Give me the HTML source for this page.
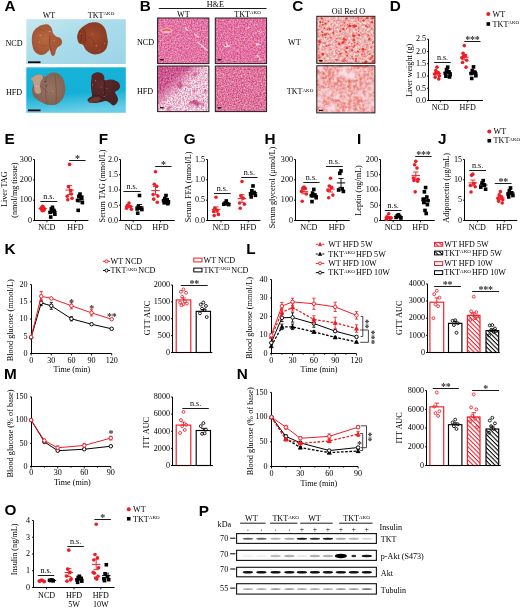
<!DOCTYPE html>
<html><head><meta charset="utf-8"><title>Figure</title>
<style>
html,body{margin:0;padding:0;background:#fff;width:520px;height:608px;overflow:hidden;}
svg{display:block;}
</style></head><body>
<svg width="520" height="608" viewBox="0 0 520 608" font-family="Liberation Serif, Times New Roman, serif" font-size="8.1" fill="#000">
<defs>
<pattern id="hr" patternUnits="userSpaceOnUse" width="3.1" height="3.1" patternTransform="rotate(45)">
<rect width="3.1" height="3.1" fill="#fff"/><rect width="3.1" height="1.05" fill="#ee1c25"/></pattern>
<pattern id="hk" patternUnits="userSpaceOnUse" width="3.1" height="3.1" patternTransform="rotate(45)">
<rect width="3.1" height="3.1" fill="#fff"/><rect width="3.1" height="1.05" fill="#000"/></pattern>
<linearGradient id="gNCD" x1="0" y1="0" x2="1" y2="1">
<stop offset="0" stop-color="#c6e8f1"/><stop offset="0.45" stop-color="#aadcea"/><stop offset="1" stop-color="#9ed4e7"/></linearGradient>
<linearGradient id="gHFD" x1="0" y1="0" x2="0.15" y2="1">
<stop offset="0" stop-color="#2cb9dc"/><stop offset="0.08" stop-color="#16b2d8"/><stop offset="0.62" stop-color="#14b0d7"/><stop offset="1" stop-color="#68cde6"/></linearGradient>
<radialGradient id="gLivWT" cx="0.45" cy="0.45" r="0.6">
<stop offset="0" stop-color="#b8683f"/><stop offset="1" stop-color="#9c5030"/></radialGradient>
<radialGradient id="gLivKO" cx="0.5" cy="0.45" r="0.6">
<stop offset="0" stop-color="#9e4a2c"/><stop offset="1" stop-color="#843822"/></radialGradient>
<radialGradient id="gLivWTH" cx="0.55" cy="0.5" r="0.6">
<stop offset="0" stop-color="#977262"/><stop offset="1" stop-color="#7f5f50"/></radialGradient>
<radialGradient id="gLivKOH" cx="0.4" cy="0.35" r="0.7">
<stop offset="0" stop-color="#5e2a2c"/><stop offset="1" stop-color="#472022"/></radialGradient>
<filter id="soft" x="-5%" y="-5%" width="110%" height="110%"><feGaussianBlur stdDeviation="0.35"/></filter>
<filter id="bl" x="-50%" y="-100%" width="200%" height="300%"><feGaussianBlur stdDeviation="0.55 0.45"/></filter>
<filter id="heN1" x="0" y="0" width="1" height="1" color-interpolation-filters="sRGB">
<feTurbulence type="fractalNoise" baseFrequency="0.7" numOctaves="2" seed="2"/>
<feColorMatrix type="matrix" values="0.22 0 0 0 0.78  0.72 0 0 0 0.1  0.46 0 0 0 0.42  0 0 0 0 1"/><feGaussianBlur stdDeviation="0.35"/></filter>
<filter id="heN2" x="0" y="0" width="1" height="1" color-interpolation-filters="sRGB">
<feTurbulence type="fractalNoise" baseFrequency="0.7" numOctaves="2" seed="6"/>
<feColorMatrix type="matrix" values="0.22 0 0 0 0.78  0.72 0 0 0 0.09  0.46 0 0 0 0.41  0 0 0 0 1"/><feGaussianBlur stdDeviation="0.35"/></filter>
<filter id="heH2" x="0" y="0" width="1" height="1" color-interpolation-filters="sRGB">
<feTurbulence type="fractalNoise" baseFrequency="0.75" numOctaves="2" seed="12"/>
<feColorMatrix type="matrix" values="0.22 0 0 0 0.76  0.8 0 0 0 0.05  0.5 0 0 0 0.36  0 0 0 0 1" result="pink"/>
<feTurbulence type="fractalNoise" baseFrequency="0.9" numOctaves="1" seed="3"/>
<feColorMatrix type="matrix" values="0 0 0 0 1  0 0 0 0 0.88  0 0 0 0 0.93  6 0 0 0 -4.0" result="wh"/>
<feMerge><feMergeNode in="pink"/><feMergeNode in="wh"/></feMerge><feGaussianBlur stdDeviation="0.35"/></filter>
<filter id="heH1" x="0" y="0" width="1" height="1" color-interpolation-filters="sRGB">
<feTurbulence type="fractalNoise" baseFrequency="0.6" numOctaves="2" seed="4"/>
<feColorMatrix type="matrix" values="0.22 0 0 0 0.69  0.7 0 0 0 0.0  0.46 0 0 0 0.34  0 0 0 0 1"/><feGaussianBlur stdDeviation="0.35"/></filter>
<filter id="fat" x="0" y="0" width="1" height="1" color-interpolation-filters="sRGB">
<feTurbulence type="fractalNoise" baseFrequency="0.6" numOctaves="2" seed="19"/>
<feColorMatrix type="matrix" values="0.2 0 0 0 0.8  0.8 0 0 0 0.25  0.6 0 0 0 0.45  0 0 0 0 1" result="lp"/>
<feTurbulence type="fractalNoise" baseFrequency="0.7" numOctaves="1" seed="9"/>
<feColorMatrix type="matrix" values="0 0 0 0 0.99  0 0 0 0 0.94  0 0 0 0 0.97  5 0 0 0 -2.2" result="wh"/>
<feMerge result="fl"><feMergeNode in="lp"/><feMergeNode in="wh"/></feMerge>
<feTurbulence type="fractalNoise" baseFrequency="0.12" numOctaves="2" seed="21"/>
<feColorMatrix type="matrix" values="0 0 0 0 0  0 0 0 0 0  0 0 0 0 0  6 0 0 0 -1.5" result="mask"/>
<feComposite in="fl" in2="mask" operator="in"/></filter>
<linearGradient id="gFatM" x1="0" y1="0" x2="1" y2="1">
<stop offset="0.28" stop-color="#000"/><stop offset="0.5" stop-color="#fff"/><stop offset="1" stop-color="#fff"/></linearGradient>
<mask id="mFat" maskUnits="userSpaceOnUse" x="157" y="66" width="52" height="46"><rect x="157" y="66" width="52" height="46" fill="url(#gFatM)"/></mask>
<filter id="or1" x="0" y="0" width="1" height="1" color-interpolation-filters="sRGB">
<feTurbulence type="fractalNoise" baseFrequency="0.45" numOctaves="2" seed="14"/>
<feColorMatrix type="matrix" values="0.12 0 0 0 0.88  0.7 0 0 0 0.36  0.7 0 0 0 0.35  0 0 0 0 1"/><feGaussianBlur stdDeviation="0.35"/></filter>
<filter id="or2" x="0" y="0" width="1" height="1" color-interpolation-filters="sRGB">
<feTurbulence type="fractalNoise" baseFrequency="0.35" numOctaves="2" seed="17"/>
<feColorMatrix type="matrix" values="0.12 0 0 0 0.88  0.75 0 0 0 0.26  0.75 0 0 0 0.25  0 0 0 0 1" result="pink"/>
<feTurbulence type="fractalNoise" baseFrequency="0.08 0.1" numOctaves="2" seed="30"/>
<feColorMatrix type="matrix" values="0 0 0 0 0.97  0 0 0 0 0.88  0 0 0 0 0.9  3 0 0 0 -1.3" result="wh"/>
<feMerge><feMergeNode in="pink"/><feMergeNode in="wh"/></feMerge><feGaussianBlur stdDeviation="0.35"/></filter>
</defs>
<text x="4.6" y="11.4" font-size="15.3" font-family="Liberation Sans, Arial, sans-serif" font-weight="bold">A</text>
<text x="49" y="17.8" text-anchor="middle">WT</text>
<text x="101" y="17.8" text-anchor="middle">TKT<tspan font-size="5.02" dy="-2.59">AKO</tspan><tspan dy="2.59"></tspan></text>
<text x="14" y="45.7" text-anchor="middle">NCD</text>
<text x="14" y="94.7" text-anchor="middle">HFD</text>
<rect x="26.3" y="19.2" width="99.5" height="44.8" fill="url(#gNCD)" />
<g filter="url(#soft)">
<path d="M42,25 C43.5,24.55 45.67,24.13 47,24.3 C48.33,24.47 49.17,25.22 50,26 C50.83,26.78 51.5,27.83 52,29 C52.5,30.17 52.33,31.75 53,33 C53.67,34.25 54.83,35.67 56,36.5 C57.17,37.33 59,37.17 60,38 C61,38.83 61.83,40.33 62,41.5 C62.17,42.67 61.67,44.08 61,45 C60.33,45.92 58.83,46.17 58,47 C57.17,47.83 56.5,48.83 56,50 C55.5,51.17 55.5,53 55,54 C54.5,55 53.67,56 53,56 C52.33,56 51.5,55 51,54 C50.5,53 50.5,50.42 50,50 C49.5,49.58 48.83,50.83 48,51.5 C47.17,52.17 46.17,53.42 45,54 C43.83,54.58 42.33,55.08 41,55 C39.67,54.92 38.17,54.25 37,53.5 C35.83,52.75 34.75,51.75 34,50.5 C33.25,49.25 32.87,47.75 32.5,46 C32.13,44.25 31.8,42 31.8,40 C31.8,38 32.05,35.67 32.5,34 C32.95,32.33 33.58,31.17 34.5,30 C35.42,28.83 36.75,27.83 38,27 C39.25,26.17 40.5,25.45 42,25Z" fill="url(#gLivWT)" />
<path d="M50,38 C50.58,36.5 52,34.25 53,34 C54,33.75 54.83,35.83 56,36.5 C57.17,37.17 59.08,37.17 60,38 C60.92,38.83 61.42,40.33 61.5,41.5 C61.58,42.67 61.17,44.08 60.5,45 C59.83,45.92 58.33,46.17 57.5,47 C56.67,47.83 56,48.83 55.5,50 C55,51.17 54.92,53.08 54.5,54 C54.08,54.92 53.5,55.58 53,55.5 C52.5,55.42 51.92,54.75 51.5,53.5 C51.08,52.25 50.83,49.75 50.5,48 C50.17,46.25 49.58,44.67 49.5,43 C49.42,41.33 49.42,39.5 50,38Z" fill="#a85a38" opacity="0.6"/>
<path d="M84,26 C85.08,25.33 87.17,23.62 89,23 C90.83,22.38 93.17,22.22 95,22.3 C96.83,22.38 98.5,22.72 100,23.5 C101.5,24.28 103,25.75 104,27 C105,28.25 105.5,29.5 106,31 C106.5,32.5 106.7,34.17 107,36 C107.3,37.83 107.88,40 107.8,42 C107.72,44 107.3,46.33 106.5,48 C105.7,49.67 104.58,50.95 103,52 C101.42,53.05 99,54.05 97,54.3 C95,54.55 92.83,54.22 91,53.5 C89.17,52.78 87.33,51.42 86,50 C84.67,48.58 84.17,46.17 83,45 C81.83,43.83 79.97,44.17 79,43 C78.03,41.83 77.37,39.67 77.2,38 C77.03,36.33 77.53,34.42 78,33 C78.47,31.58 79.25,30.5 80,29.5 C80.75,28.5 81.83,27.58 82.5,27 C83.17,26.42 82.92,26.67 84,26Z" fill="url(#gLivKO)" />
<path d="M78,33 C78.5,31.25 80,29.5 81,28.5 C82,27.5 83.33,26.42 84,27 C84.67,27.58 84.67,30.17 85,32 C85.33,33.83 86,36.17 86,38 C86,39.83 85.83,42.25 85,43 C84.17,43.75 82.17,43.17 81,42.5 C79.83,41.83 78.5,40.58 78,39 C77.5,37.42 77.5,34.75 78,33Z" fill="#8a3522" opacity="0.6"/>
</g>
<g fill="none" stroke-linecap="round" opacity="0.55">
<path d="M50,36 C49,41 49.5,46 51,51" stroke="#6e2e18" stroke-width="0.9"/>
<path d="M38,30 C40,29 43,29.5 45,31 M41,45 C43,46 45,46 47,45" stroke="#7a3820" stroke-width="0.6"/>
<path d="M80,31 C82,35 82,39 80,42 M84,30 C86,34 86,38 85,43 M88,37 C92,38 94,41 95,45" stroke="#5a2010" stroke-width="0.7"/>
</g>
<ellipse cx="39.71" cy="41.97" rx="0.48" ry="0.42" fill="#f0d8d0" opacity="0.9"/>
<ellipse cx="49.02" cy="31.44" rx="0.31" ry="0.5" fill="#f0d8d0" opacity="0.9"/>
<ellipse cx="40.22" cy="35.16" rx="0.8" ry="0.37" fill="#f0d8d0" opacity="0.9"/>
<ellipse cx="54.08" cy="40.48" rx="0.62" ry="0.25" fill="#f0d8d0" opacity="0.9"/>
<ellipse cx="49.24" cy="49.1" rx="0.56" ry="0.47" fill="#f0d8d0" opacity="0.9"/>
<ellipse cx="50.11" cy="31.41" rx="0.68" ry="0.41" fill="#f0d8d0" opacity="0.9"/>
<ellipse cx="96.2" cy="45.8" rx="0.62" ry="0.47" fill="#f0d8d0" opacity="0.9"/>
<ellipse cx="99.24" cy="50.14" rx="0.31" ry="0.34" fill="#f0d8d0" opacity="0.9"/>
<ellipse cx="104.53" cy="43.58" rx="0.66" ry="0.23" fill="#f0d8d0" opacity="0.9"/>
<ellipse cx="92.2" cy="33.92" rx="0.52" ry="0.37" fill="#f0d8d0" opacity="0.9"/>
<ellipse cx="80.34" cy="33.2" rx="0.41" ry="0.47" fill="#f0d8d0" opacity="0.9"/>
<rect x="28" y="61.4" width="12.5" height="1.7" fill="#000" />
<rect x="26.3" y="67.3" width="99.5" height="45.5" fill="url(#gHFD)" />
<g filter="url(#soft)">
<path d="M34,76 C35.17,75.25 36.67,74.67 38,74.5 C39.33,74.33 40.83,74.58 42,75 C43.17,75.42 44,77.08 45,77 C46,76.92 46.67,75.25 48,74.5 C49.33,73.75 51.33,72.67 53,72.5 C54.67,72.33 56.5,72.75 58,73.5 C59.5,74.25 60.92,75.42 62,77 C63.08,78.58 63.93,80.83 64.5,83 C65.07,85.17 65.48,87.83 65.4,90 C65.32,92.17 64.73,94.17 64,96 C63.27,97.83 62.33,99.58 61,101 C59.67,102.42 57.83,103.83 56,104.5 C54.17,105.17 51.83,105.08 50,105 C48.17,104.92 46.67,104.58 45,104 C43.33,103.42 41.5,102.33 40,101.5 C38.5,100.67 37.17,100.08 36,99 C34.83,97.92 33.67,96.67 33,95 C32.33,93.33 31.92,90.83 32,89 C32.08,87.17 33.5,85.33 33.5,84 C33.5,82.67 32.42,81.83 32,81 C31.58,80.17 30.67,79.83 31,79 C31.33,78.17 32.83,76.75 34,76Z" fill="url(#gLivWTH)" />
<path d="M31,79 C31.17,78 32.83,76.75 34,76 C35.17,75.25 36.67,74.67 38,74.5 C39.33,74.33 41.17,74.42 42,75 C42.83,75.58 43.17,77 43,78 C42.83,79 41.5,79.67 41,81 C40.5,82.33 40,84.17 40,86 C40,87.83 41.33,90.67 41,92 C40.67,93.33 39,94 38,94 C37,94 35.67,93.33 35,92 C34.33,90.67 34.33,87.67 34,86 C33.67,84.33 33.5,83.17 33,82 C32.5,80.83 30.83,80 31,79Z" fill="#c9a88f" opacity="0.85"/>
<path d="M92,75 C92.75,74.08 94.5,72.83 96,72.5 C97.5,72.17 99.67,72.42 101,73 C102.33,73.58 103.42,74.83 104,76 C104.58,77.17 104,79.33 104.5,80 C105,80.67 105.92,80.08 107,80 C108.08,79.92 109.67,79.42 111,79.5 C112.33,79.58 113.67,79.92 115,80.5 C116.33,81.08 118.17,81.92 119,83 C119.83,84.08 120.17,85.83 120,87 C119.83,88.17 118.83,89.17 118,90 C117.17,90.83 115.17,91 115,92 C114.83,93 116.5,94.67 117,96 C117.5,97.33 118.17,98.67 118,100 C117.83,101.33 116.83,103.1 116,104 C115.17,104.9 114,105.57 113,105.4 C112,105.23 111.17,103.73 110,103 C108.83,102.27 107.5,101.17 106,101 C104.5,100.83 102.67,101.67 101,102 C99.33,102.33 97.83,102.92 96,103 C94.17,103.08 91.42,102.92 90,102.5 C88.58,102.08 87.67,101.25 87.5,100.5 C87.33,99.75 88.25,98.75 89,98 C89.75,97.25 91.58,97 92,96 C92.42,95 91.67,93.5 91.5,92 C91.33,90.5 91.08,88.67 91,87 C90.92,85.33 90.92,83.5 91,82 C91.08,80.5 91.33,79.17 91.5,78 C91.67,76.83 91.25,75.92 92,75Z" fill="url(#gLivKOH)" />
</g>
<g fill="none" stroke-linecap="round" opacity="0.55">
<path d="M46,77 C46,85 45,95 47,104 M40,86 C43,88 45,90 47,92 M55,75 C56,85 57,95 56,104" stroke="#5c4034" stroke-width="0.7"/>
<path d="M92,96 C96,94 100,95 104,99 M104,80 C105,85 106,90 104,95" stroke="#2a0e0e" stroke-width="0.8"/>
</g>
<path d="M88,101 C92,97 97,96 101,98 C100,101 95,103 89,103Z" fill="#7a4038" opacity="0.7"/>
<circle cx="45.5" cy="82" r="0.9" fill="#3a1a14" opacity="0.7"/><circle cx="46.5" cy="86" r="0.7" fill="#3a1a14" opacity="0.6"/>
<ellipse cx="41.89" cy="103.1" rx="0.36" ry="0.45" fill="#efe3dc" opacity="0.9"/>
<ellipse cx="38.21" cy="85.94" rx="0.8" ry="0.28" fill="#efe3dc" opacity="0.9"/>
<ellipse cx="52.69" cy="91.02" rx="0.53" ry="0.38" fill="#efe3dc" opacity="0.9"/>
<ellipse cx="41" cy="99.93" rx="0.34" ry="0.28" fill="#efe3dc" opacity="0.9"/>
<ellipse cx="36.52" cy="86.4" rx="0.5" ry="0.52" fill="#efe3dc" opacity="0.9"/>
<ellipse cx="45.86" cy="82.73" rx="0.43" ry="0.56" fill="#efe3dc" opacity="0.9"/>
<ellipse cx="101.11" cy="86.96" rx="0.36" ry="0.45" fill="#d9c8c8" opacity="0.9"/>
<ellipse cx="90.15" cy="90.07" rx="0.66" ry="0.22" fill="#d9c8c8" opacity="0.9"/>
<ellipse cx="103.3" cy="92.8" rx="0.32" ry="0.31" fill="#d9c8c8" opacity="0.9"/>
<ellipse cx="106.88" cy="88.85" rx="0.59" ry="0.25" fill="#d9c8c8" opacity="0.9"/>
<ellipse cx="95.71" cy="80.66" rx="0.5" ry="0.47" fill="#d9c8c8" opacity="0.9"/>
<ellipse cx="104.17" cy="96.58" rx="0.45" ry="0.42" fill="#d9c8c8" opacity="0.9"/>
<ellipse cx="92.44" cy="84.99" rx="0.57" ry="0.41" fill="#d9c8c8" opacity="0.9"/>
<rect x="28" y="109.5" width="12.5" height="1.7" fill="#000" />
<text x="139.8" y="11.4" font-size="15.3" font-family="Liberation Sans, Arial, sans-serif" font-weight="bold">B</text>
<text x="215.3" y="7" text-anchor="middle">H&amp;E</text>
<line x1="158.8" y1="8.5" x2="266.5" y2="8.5" stroke="#000" stroke-width="0.9" />
<text x="183.3" y="16.6" text-anchor="middle">WT</text>
<text x="247.5" y="16.6" text-anchor="middle">TKT<tspan font-size="5.02" dy="-2.59">AKO</tspan><tspan dy="2.59"></tspan></text>
<text x="145.5" y="45.2" text-anchor="middle">NCD</text>
<text x="145" y="93.8" text-anchor="middle">HFD</text>
<g>
<rect x="157.6" y="18" width="51.3" height="45.6" fill="#fff" />
<rect x="157.6" y="18" width="51.3" height="45.6" filter="url(#heN1)"/>
</g>
<g>
<rect x="215.3" y="18" width="51.3" height="45.6" fill="#fff" />
<rect x="215.3" y="18" width="51.3" height="45.6" filter="url(#heN2)"/>
</g>
<g>
<rect x="157.6" y="66" width="51.3" height="45.6" fill="#fff" />
<rect x="157.6" y="66" width="51.3" height="45.6" filter="url(#heH1)"/>
</g>
<g>
<rect x="215.3" y="66" width="51.3" height="45.6" fill="#fff" />
<rect x="215.3" y="66" width="51.3" height="45.6" filter="url(#heH2)"/>
</g>
<g mask="url(#mFat)"><rect x="157.6" y="66" width="51.3" height="45.6" filter="url(#fat)"/></g>
<g filter="url(#soft)">
<path d="M160.5,30.5 C162,28.8 166,28.2 170,28.6 C172,29 173,30.5 172.5,31.5 C171,33 167,33.3 163,32.8 C161.5,32.5 160.5,31.5 160.5,30.5Z" fill="#f2b6bf"/>
<path d="M162.5,30.8 C165,29.8 168,29.8 170.5,30.5" stroke="#e2452e" stroke-width="1.3" fill="none"/>
<path d="M185,28 L188.2,30.6 M194.5,34.5 L199,37.2 M195.5,40.5 C199,43 203,46.5 207.5,50.5" stroke="#f7dbe3" stroke-width="1.1" fill="none"/>
<circle cx="196.5" cy="41.2" r="0.8" fill="#e2603a"/>
<path d="M223.2,45.5 L226,43.6 L226.8,41.5 L227.6,44.5 L231.2,46.4 L227,47 L224.5,47.2Z" fill="#f6d6de"/>
<circle cx="225.4" cy="45" r="1.1" fill="#e4482c"/>
<path d="M253.5,44.3 L256,43 L261.6,44.2 L256.5,45.8Z" fill="#f6d6de"/>
<circle cx="255" cy="44.5" r="0.9" fill="#e4482c"/>
<path d="M257,55 C258,56.5 259.5,58 260.5,60.5" stroke="#f6d6de" stroke-width="1.5" fill="none"/>
<circle cx="258.6" cy="58" r="0.8" fill="#e4482c"/>
<path d="M246.5,28.5 L250,27.5 M259,31 L261,33" stroke="#f6d6de" stroke-width="0.8" fill="none"/>
</g>
<rect x="157.6" y="18" width="51.3" height="45.6" fill="none" stroke="#222" stroke-width="1" />
<rect x="159.9" y="59.2" width="3.8" height="1.2" fill="#000" />
<rect x="215.3" y="18" width="51.3" height="45.6" fill="none" stroke="#222" stroke-width="1" />
<rect x="217.6" y="59.2" width="3.8" height="1.2" fill="#000" />
<rect x="157.6" y="66" width="51.3" height="45.6" fill="none" stroke="#222" stroke-width="1" />
<rect x="159.9" y="107.2" width="3.8" height="1.2" fill="#000" />
<rect x="215.3" y="66" width="51.3" height="45.6" fill="none" stroke="#222" stroke-width="1" />
<rect x="217.6" y="107.2" width="3.8" height="1.2" fill="#000" />
<text x="292.3" y="11.4" font-size="15.3" font-family="Liberation Sans, Arial, sans-serif" font-weight="bold">C</text>
<text x="348.5" y="13.8" text-anchor="middle">Oil Red O</text>
<text x="294.3" y="45.3" text-anchor="middle">WT</text>
<text x="300" y="94.3" text-anchor="middle">TKT<tspan font-size="5.02" dy="-2.59">AKO</tspan><tspan dy="2.59"></tspan></text>
<g>
<rect x="316.8" y="16.3" width="58.1" height="47" fill="#fff" />
<rect x="316.8" y="16.3" width="58.1" height="47" filter="url(#or1)"/>
</g>
<g>
<rect x="316.8" y="65.8" width="58.1" height="47.1" fill="#fff" />
<rect x="316.8" y="65.8" width="58.1" height="47.1" filter="url(#or2)"/>
</g>
<circle cx="343.15" cy="42.75" r="0.9" fill="#ee2f26" opacity="0.86"/>
<circle cx="365.98" cy="25.74" r="1" fill="#ee2f26" opacity="0.87"/>
<circle cx="352.31" cy="25.56" r="0.9" fill="#ee2f26" opacity="0.83"/>
<circle cx="322.64" cy="54.24" r="1.4" fill="#ee2f26" opacity="0.76"/>
<circle cx="373.19" cy="61.38" r="1.4" fill="#ee2f26" opacity="0.93"/>
<circle cx="354.36" cy="45.66" r="1" fill="#ee2f26" opacity="0.77"/>
<circle cx="319.52" cy="57.46" r="1.2" fill="#ee2f26" opacity="0.76"/>
<circle cx="343.81" cy="37.26" r="0.6" fill="#ee2f26" opacity="0.88"/>
<circle cx="353.8" cy="39.99" r="1.4" fill="#ee2f26" opacity="0.77"/>
<circle cx="354.63" cy="35.71" r="1" fill="#ee2f26" opacity="1"/>
<circle cx="365.14" cy="49.56" r="0.7" fill="#ee2f26" opacity="0.94"/>
<circle cx="346.58" cy="18.37" r="1.2" fill="#ee2f26" opacity="0.94"/>
<circle cx="340.2" cy="55.94" r="0.8" fill="#ee2f26" opacity="0.77"/>
<circle cx="318.46" cy="48.51" r="0.6" fill="#ee2f26" opacity="0.8"/>
<circle cx="369.11" cy="38.62" r="0.8" fill="#ee2f26" opacity="0.85"/>
<circle cx="349.61" cy="26.13" r="1.4" fill="#ee2f26" opacity="0.82"/>
<circle cx="322.44" cy="32.3" r="0.8" fill="#ee2f26" opacity="0.94"/>
<circle cx="324.19" cy="28.33" r="0.5" fill="#ee2f26" opacity="0.75"/>
<circle cx="343.86" cy="39.39" r="1.4" fill="#ee2f26" opacity="0.89"/>
<circle cx="342.87" cy="25.77" r="0.6" fill="#ee2f26" opacity="0.85"/>
<circle cx="339.26" cy="35.16" r="0.6" fill="#ee2f26" opacity="0.75"/>
<circle cx="366.51" cy="61.84" r="1.2" fill="#ee2f26" opacity="0.83"/>
<circle cx="367.67" cy="26.69" r="0.8" fill="#ee2f26" opacity="1"/>
<circle cx="351.63" cy="43.54" r="0.45" fill="#ee2f26" opacity="1"/>
<circle cx="329.59" cy="28.88" r="1.2" fill="#ee2f26" opacity="0.83"/>
<circle cx="334.3" cy="20.38" r="0.5" fill="#ee2f26" opacity="0.8"/>
<circle cx="353.59" cy="17.71" r="0.7" fill="#ee2f26" opacity="0.84"/>
<circle cx="343.2" cy="61.12" r="0.9" fill="#ee2f26" opacity="0.96"/>
<circle cx="325.2" cy="34.76" r="1.4" fill="#ee2f26" opacity="0.79"/>
<circle cx="369.01" cy="54.62" r="0.6" fill="#ee2f26" opacity="0.93"/>
<circle cx="326.49" cy="45.93" r="1" fill="#ee2f26" opacity="0.8"/>
<circle cx="371.37" cy="57.58" r="1.2" fill="#ee2f26" opacity="0.77"/>
<circle cx="320.19" cy="22.02" r="1" fill="#ee2f26" opacity="0.99"/>
<circle cx="331.02" cy="49.41" r="0.7" fill="#ee2f26" opacity="0.86"/>
<circle cx="368.8" cy="39.59" r="1" fill="#ee2f26" opacity="0.79"/>
<circle cx="358.34" cy="20.16" r="0.6" fill="#ee2f26" opacity="0.87"/>
<circle cx="354.55" cy="45.33" r="0.5" fill="#ee2f26" opacity="0.82"/>
<circle cx="369.51" cy="26.38" r="0.45" fill="#ee2f26" opacity="0.77"/>
<circle cx="340.83" cy="28.46" r="0.45" fill="#ee2f26" opacity="0.79"/>
<circle cx="338.41" cy="43.32" r="0.6" fill="#ee2f26" opacity="0.77"/>
<circle cx="325.35" cy="37.72" r="0.7" fill="#ee2f26" opacity="0.91"/>
<circle cx="356.69" cy="43.88" r="0.6" fill="#ee2f26" opacity="0.9"/>
<circle cx="369.87" cy="38.84" r="0.7" fill="#ee2f26" opacity="0.93"/>
<circle cx="372.09" cy="17.98" r="1.4" fill="#ee2f26" opacity="0.77"/>
<circle cx="321.31" cy="31.31" r="0.6" fill="#ee2f26" opacity="1"/>
<circle cx="321.77" cy="42.12" r="0.45" fill="#ee2f26" opacity="0.98"/>
<circle cx="359.29" cy="49.37" r="0.7" fill="#ee2f26" opacity="0.84"/>
<circle cx="356.35" cy="58.44" r="0.8" fill="#ee2f26" opacity="0.99"/>
<circle cx="319.22" cy="40" r="0.45" fill="#ee2f26" opacity="0.91"/>
<circle cx="339.18" cy="43.8" r="1.2" fill="#ee2f26" opacity="0.77"/>
<circle cx="322.64" cy="22.32" r="0.7" fill="#ee2f26" opacity="0.97"/>
<circle cx="358.79" cy="34.87" r="1.2" fill="#ee2f26" opacity="0.86"/>
<circle cx="343.73" cy="41.9" r="1" fill="#ee2f26" opacity="0.94"/>
<circle cx="319.19" cy="44.66" r="0.9" fill="#ee2f26" opacity="0.76"/>
<circle cx="371.78" cy="22.19" r="1.2" fill="#ee2f26" opacity="0.92"/>
<circle cx="345.07" cy="58.24" r="0.7" fill="#ee2f26" opacity="0.83"/>
<circle cx="355.95" cy="26.32" r="0.6" fill="#ee2f26" opacity="0.94"/>
<circle cx="336.92" cy="59.79" r="0.9" fill="#ee2f26" opacity="0.97"/>
<circle cx="336.04" cy="47.63" r="0.6" fill="#ee2f26" opacity="0.91"/>
<circle cx="363.07" cy="51.71" r="0.6" fill="#ee2f26" opacity="0.97"/>
<circle cx="339.3" cy="43.82" r="0.7" fill="#ee2f26" opacity="0.8"/>
<circle cx="325.13" cy="33.13" r="0.45" fill="#ee2f26" opacity="0.93"/>
<circle cx="371.37" cy="29.73" r="0.6" fill="#ee2f26" opacity="0.78"/>
<circle cx="344.23" cy="59.58" r="0.8" fill="#ee2f26" opacity="0.85"/>
<circle cx="346.98" cy="47.92" r="1.2" fill="#ee2f26" opacity="0.86"/>
<circle cx="321.73" cy="18.45" r="1.2" fill="#ee2f26" opacity="0.76"/>
<circle cx="357.68" cy="43.25" r="0.7" fill="#ee2f26" opacity="0.91"/>
<circle cx="349.48" cy="46.49" r="0.8" fill="#ee2f26" opacity="0.86"/>
<circle cx="318.9" cy="55.16" r="0.6" fill="#ee2f26" opacity="0.94"/>
<circle cx="362.68" cy="62.26" r="0.5" fill="#ee2f26" opacity="0.86"/>
<circle cx="353.22" cy="47.13" r="0.7" fill="#ee2f26" opacity="0.99"/>
<circle cx="356.31" cy="26.17" r="0.9" fill="#ee2f26" opacity="0.81"/>
<circle cx="358" cy="51.73" r="1" fill="#ee2f26" opacity="0.93"/>
<circle cx="327.65" cy="29.53" r="0.7" fill="#ee2f26" opacity="0.88"/>
<circle cx="371.18" cy="40.02" r="0.6" fill="#ee2f26" opacity="0.85"/>
<circle cx="362.4" cy="58.69" r="0.5" fill="#ee2f26" opacity="0.85"/>
<circle cx="368.11" cy="34.85" r="0.9" fill="#ee2f26" opacity="0.86"/>
<circle cx="352.97" cy="58.86" r="0.8" fill="#ee2f26" opacity="0.89"/>
<circle cx="354.51" cy="40.12" r="0.7" fill="#ee2f26" opacity="0.87"/>
<circle cx="354.43" cy="26.43" r="1.4" fill="#ee2f26" opacity="0.98"/>
<circle cx="324.5" cy="28.15" r="0.8" fill="#ee2f26" opacity="1"/>
<circle cx="372.92" cy="41.7" r="0.7" fill="#ee2f26" opacity="0.82"/>
<circle cx="358.23" cy="17.72" r="1" fill="#ee2f26" opacity="0.77"/>
<circle cx="342.5" cy="42.31" r="0.7" fill="#ee2f26" opacity="0.87"/>
<circle cx="319.11" cy="54.22" r="0.5" fill="#ee2f26" opacity="0.86"/>
<circle cx="319.49" cy="41.52" r="1.4" fill="#ee2f26" opacity="0.95"/>
<circle cx="325.47" cy="23.84" r="1" fill="#ee2f26" opacity="0.98"/>
<circle cx="346.88" cy="48.18" r="0.9" fill="#ee2f26" opacity="0.99"/>
<circle cx="345.43" cy="60.66" r="0.5" fill="#ee2f26" opacity="0.94"/>
<circle cx="342.42" cy="42.7" r="1" fill="#ee2f26" opacity="0.91"/>
<circle cx="347.14" cy="55.81" r="1" fill="#ee2f26" opacity="0.81"/>
<circle cx="355.56" cy="60.92" r="1.2" fill="#ee2f26" opacity="0.8"/>
<circle cx="365.74" cy="61.55" r="1" fill="#ee2f26" opacity="0.82"/>
<circle cx="345.72" cy="35.91" r="0.5" fill="#ee2f26" opacity="0.88"/>
<circle cx="351.82" cy="18.28" r="0.45" fill="#ee2f26" opacity="0.88"/>
<circle cx="340.21" cy="53.85" r="1.2" fill="#ee2f26" opacity="0.78"/>
<circle cx="322.79" cy="24.67" r="1" fill="#ee2f26" opacity="0.86"/>
<circle cx="369.71" cy="53.82" r="0.8" fill="#ee2f26" opacity="0.82"/>
<circle cx="344.33" cy="22.84" r="0.8" fill="#ee2f26" opacity="0.98"/>
<circle cx="370.55" cy="59.32" r="1" fill="#ee2f26" opacity="0.83"/>
<circle cx="328.36" cy="45.42" r="0.7" fill="#ee2f26" opacity="0.78"/>
<circle cx="361.69" cy="18.05" r="0.6" fill="#ee2f26" opacity="0.79"/>
<circle cx="318.17" cy="30.07" r="0.7" fill="#ee2f26" opacity="0.81"/>
<circle cx="345.78" cy="39.99" r="1.2" fill="#ee2f26" opacity="0.78"/>
<circle cx="346.44" cy="28.53" r="0.6" fill="#ee2f26" opacity="0.93"/>
<circle cx="367.32" cy="18.07" r="1.4" fill="#ee2f26" opacity="0.85"/>
<circle cx="347.51" cy="24.35" r="0.6" fill="#ee2f26" opacity="0.97"/>
<circle cx="347.78" cy="27.04" r="0.6" fill="#ee2f26" opacity="0.96"/>
<circle cx="352.18" cy="56.41" r="0.6" fill="#ee2f26" opacity="0.98"/>
<circle cx="353.1" cy="32.99" r="0.6" fill="#ee2f26" opacity="0.83"/>
<circle cx="335.36" cy="59.45" r="0.6" fill="#ee2f26" opacity="0.94"/>
<circle cx="328.53" cy="21.46" r="0.6" fill="#ee2f26" opacity="0.78"/>
<circle cx="322.5" cy="34.84" r="0.8" fill="#ee2f26" opacity="0.96"/>
<circle cx="341.41" cy="53.34" r="0.6" fill="#ee2f26" opacity="0.8"/>
<circle cx="353.11" cy="53.75" r="0.5" fill="#ee2f26" opacity="0.8"/>
<circle cx="356.19" cy="58.92" r="0.7" fill="#ee2f26" opacity="0.78"/>
<circle cx="346.17" cy="51.88" r="1" fill="#ee2f26" opacity="1"/>
<circle cx="364.73" cy="53.93" r="0.9" fill="#ee2f26" opacity="0.78"/>
<circle cx="319.62" cy="42.38" r="1" fill="#ee2f26" opacity="0.98"/>
<circle cx="344.79" cy="25.72" r="0.5" fill="#ee2f26" opacity="0.8"/>
<circle cx="365.14" cy="62.55" r="1.4" fill="#ee2f26" opacity="0.77"/>
<circle cx="321.01" cy="60.77" r="0.9" fill="#ee2f26" opacity="0.77"/>
<circle cx="322.98" cy="34.98" r="0.8" fill="#ee2f26" opacity="0.88"/>
<circle cx="341.89" cy="44.64" r="0.45" fill="#ee2f26" opacity="0.91"/>
<circle cx="319.82" cy="26.21" r="0.8" fill="#ee2f26" opacity="0.86"/>
<circle cx="359.42" cy="35.64" r="0.6" fill="#ee2f26" opacity="0.9"/>
<circle cx="322.88" cy="53.45" r="0.7" fill="#ee2f26" opacity="0.97"/>
<circle cx="362.96" cy="49.41" r="1.4" fill="#ee2f26" opacity="0.98"/>
<circle cx="349.8" cy="25.78" r="1.2" fill="#ee2f26" opacity="1"/>
<circle cx="363.13" cy="28.88" r="0.5" fill="#ee2f26" opacity="0.94"/>
<circle cx="361.61" cy="54.47" r="0.8" fill="#ee2f26" opacity="0.78"/>
<circle cx="336.21" cy="41.79" r="0.7" fill="#ee2f26" opacity="0.94"/>
<circle cx="360.89" cy="35.66" r="0.6" fill="#ee2f26" opacity="0.77"/>
<circle cx="336.88" cy="38.57" r="0.45" fill="#ee2f26" opacity="0.97"/>
<circle cx="373.67" cy="58.52" r="0.45" fill="#ee2f26" opacity="0.81"/>
<circle cx="371.06" cy="47.64" r="0.7" fill="#ee2f26" opacity="0.8"/>
<circle cx="340.53" cy="25.37" r="0.5" fill="#ee2f26" opacity="0.85"/>
<circle cx="374.19" cy="46.54" r="0.5" fill="#ee2f26" opacity="0.94"/>
<circle cx="373.07" cy="18.05" r="1.2" fill="#ee2f26" opacity="0.78"/>
<circle cx="330.94" cy="37.41" r="1" fill="#ee2f26" opacity="0.76"/>
<circle cx="328.58" cy="34.28" r="0.5" fill="#ee2f26" opacity="0.81"/>
<circle cx="333.13" cy="32.68" r="1" fill="#ee2f26" opacity="0.88"/>
<circle cx="372.34" cy="43.13" r="0.5" fill="#ee2f26" opacity="0.91"/>
<circle cx="363.4" cy="20.51" r="1.2" fill="#ee2f26" opacity="0.92"/>
<circle cx="371.67" cy="34.78" r="0.6" fill="#ee2f26" opacity="0.85"/>
<circle cx="372.5" cy="56.36" r="1" fill="#ee2f26" opacity="0.9"/>
<circle cx="320.82" cy="60.48" r="0.8" fill="#ee2f26" opacity="0.82"/>
<circle cx="340.1" cy="31.37" r="1" fill="#ee2f26" opacity="0.82"/>
<circle cx="354.64" cy="42.79" r="0.7" fill="#ee2f26" opacity="0.92"/>
<circle cx="359.9" cy="18.24" r="0.6" fill="#ee2f26" opacity="0.9"/>
<circle cx="353.39" cy="35.81" r="1.4" fill="#ee2f26" opacity="0.85"/>
<circle cx="368.39" cy="51.42" r="0.45" fill="#ee2f26" opacity="0.9"/>
<circle cx="358.5" cy="31.69" r="0.6" fill="#ee2f26" opacity="0.86"/>
<circle cx="344.58" cy="61.77" r="0.6" fill="#ee2f26" opacity="0.76"/>
<circle cx="323.08" cy="54.27" r="0.9" fill="#ee2f26" opacity="0.79"/>
<circle cx="371.93" cy="28.28" r="0.5" fill="#ee2f26" opacity="0.76"/>
<circle cx="341.15" cy="22.43" r="0.45" fill="#ee2f26" opacity="0.84"/>
<circle cx="326.27" cy="33.71" r="0.6" fill="#ee2f26" opacity="0.92"/>
<circle cx="343.33" cy="29.06" r="1.2" fill="#ee2f26" opacity="0.92"/>
<circle cx="338.14" cy="51.22" r="0.6" fill="#ee2f26" opacity="0.99"/>
<circle cx="359.13" cy="27.97" r="0.5" fill="#ee2f26" opacity="0.88"/>
<circle cx="335" cy="40.34" r="0.7" fill="#ee2f26" opacity="0.82"/>
<circle cx="352.08" cy="50.35" r="1.2" fill="#ee2f26" opacity="0.8"/>
<circle cx="333.3" cy="28.01" r="0.6" fill="#ee2f26" opacity="0.88"/>
<circle cx="354.52" cy="26.01" r="1.4" fill="#ee2f26" opacity="0.76"/>
<rect x="316.8" y="16.3" width="58.1" height="47" fill="none" stroke="#222" stroke-width="1" />
<rect x="316.8" y="65.8" width="58.1" height="47.1" fill="none" stroke="#222" stroke-width="1" />
<rect x="319" y="60.2" width="3.8" height="1.2" fill="#000" />
<rect x="319" y="109.8" width="3.8" height="1.2" fill="#000" />
<text x="389.8" y="11.4" font-size="15.3" font-family="Liberation Sans, Arial, sans-serif" font-weight="bold">D</text>
<circle cx="488.3" cy="14" r="2" fill="#ee1c25"/>
<text x="492.6" y="16.75">WT</text>
<rect x="486.5" y="22.2" width="3.6" height="3.6" fill="#000" />
<text x="492.6" y="26.75">TKT<tspan font-size="5.02" dy="-2.59">AKO</tspan><tspan dy="2.59"></tspan></text>
<line x1="428.5" y1="39.2" x2="428.5" y2="100.5" stroke="#000" stroke-width="1" />
<line x1="427" y1="100.5" x2="428.5" y2="100.5" stroke="#000" stroke-width="0.9" />
<text x="426" y="102.77" text-anchor="end">0.0</text>
<line x1="427" y1="88.24" x2="428.5" y2="88.24" stroke="#000" stroke-width="0.9" />
<text x="426" y="90.51" text-anchor="end">0.5</text>
<line x1="427" y1="75.98" x2="428.5" y2="75.98" stroke="#000" stroke-width="0.9" />
<text x="426" y="78.25" text-anchor="end">1.0</text>
<line x1="427" y1="63.72" x2="428.5" y2="63.72" stroke="#000" stroke-width="0.9" />
<text x="426" y="65.99" text-anchor="end">1.5</text>
<line x1="427" y1="51.46" x2="428.5" y2="51.46" stroke="#000" stroke-width="0.9" />
<text x="426" y="53.73" text-anchor="end">2.0</text>
<line x1="427" y1="39.2" x2="428.5" y2="39.2" stroke="#000" stroke-width="0.9" />
<text x="426" y="41.47" text-anchor="end">2.5</text>
<line x1="428" y1="100.5" x2="483" y2="100.5" stroke="#000" stroke-width="1" />
<line x1="440.3" y1="100.5" x2="440.3" y2="102.3" stroke="#000" stroke-width="0.9" />
<line x1="467.7" y1="100.5" x2="467.7" y2="102.3" stroke="#000" stroke-width="0.9" />
<text x="440.3" y="110.2" text-anchor="middle">NCD</text>
<text x="467.7" y="110.2" text-anchor="middle">HFD</text>
<line x1="432.8" y1="73.65" x2="441.2" y2="73.65" stroke="#ee1c25" stroke-width="1" />
<line x1="437" y1="72.33" x2="437" y2="74.97" stroke="#ee1c25" stroke-width="0.9" />
<line x1="434.4" y1="72.33" x2="439.6" y2="72.33" stroke="#ee1c25" stroke-width="0.9" />
<line x1="434.4" y1="74.97" x2="439.6" y2="74.97" stroke="#ee1c25" stroke-width="0.9" />
<circle cx="437" cy="67.15" r="1.8" fill="#ee1c25"/>
<circle cx="435.8" cy="70.59" r="1.8" fill="#ee1c25"/>
<circle cx="438.2" cy="72.55" r="1.8" fill="#ee1c25"/>
<circle cx="434.6" cy="74.02" r="1.8" fill="#ee1c25"/>
<circle cx="439.4" cy="75.73" r="1.8" fill="#ee1c25"/>
<circle cx="435.2" cy="77.21" r="1.8" fill="#ee1c25"/>
<circle cx="438.8" cy="78.92" r="1.8" fill="#ee1c25"/>
<circle cx="436.4" cy="73.04" r="1.8" fill="#ee1c25"/>
<line x1="443.5" y1="72.61" x2="451.9" y2="72.61" stroke="#000" stroke-width="1" />
<line x1="447.7" y1="71.42" x2="447.7" y2="73.8" stroke="#000" stroke-width="0.9" />
<line x1="445.1" y1="71.42" x2="450.3" y2="71.42" stroke="#000" stroke-width="0.9" />
<line x1="445.1" y1="73.8" x2="450.3" y2="73.8" stroke="#000" stroke-width="0.9" />
<rect x="445.9" y="65.35" width="3.6" height="3.6" fill="#000" />
<rect x="444.7" y="67.8" width="3.6" height="3.6" fill="#000" />
<rect x="447.1" y="70.01" width="3.6" height="3.6" fill="#000" />
<rect x="443.5" y="71.48" width="3.6" height="3.6" fill="#000" />
<rect x="448.3" y="72.95" width="3.6" height="3.6" fill="#000" />
<rect x="444.1" y="74.43" width="3.6" height="3.6" fill="#000" />
<rect x="447.7" y="75.16" width="3.6" height="3.6" fill="#000" />
<rect x="445.3" y="69.28" width="3.6" height="3.6" fill="#000" />
<line x1="460.1" y1="57.31" x2="468.5" y2="57.31" stroke="#ee1c25" stroke-width="1" />
<line x1="464.3" y1="55.03" x2="464.3" y2="59.6" stroke="#ee1c25" stroke-width="0.9" />
<line x1="461.7" y1="55.03" x2="466.9" y2="55.03" stroke="#ee1c25" stroke-width="0.9" />
<line x1="461.7" y1="59.6" x2="466.9" y2="59.6" stroke="#ee1c25" stroke-width="0.9" />
<circle cx="464.3" cy="45.58" r="1.8" fill="#ee1c25"/>
<circle cx="463.1" cy="53.18" r="1.8" fill="#ee1c25"/>
<circle cx="465.5" cy="55.63" r="1.8" fill="#ee1c25"/>
<circle cx="461.9" cy="57.84" r="1.8" fill="#ee1c25"/>
<circle cx="466.7" cy="60.29" r="1.8" fill="#ee1c25"/>
<circle cx="462.5" cy="62.49" r="1.8" fill="#ee1c25"/>
<circle cx="466.1" cy="67.15" r="1.8" fill="#ee1c25"/>
<circle cx="463.7" cy="56.36" r="1.8" fill="#ee1c25"/>
<line x1="469.3" y1="72.9" x2="477.7" y2="72.9" stroke="#000" stroke-width="1" />
<line x1="473.5" y1="71.51" x2="473.5" y2="74.29" stroke="#000" stroke-width="0.9" />
<line x1="470.9" y1="71.51" x2="476.1" y2="71.51" stroke="#000" stroke-width="0.9" />
<line x1="470.9" y1="74.29" x2="476.1" y2="74.29" stroke="#000" stroke-width="0.9" />
<rect x="471.7" y="65.11" width="3.6" height="3.6" fill="#000" />
<rect x="470.5" y="68.79" width="3.6" height="3.6" fill="#000" />
<rect x="472.9" y="70.26" width="3.6" height="3.6" fill="#000" />
<rect x="469.3" y="71.73" width="3.6" height="3.6" fill="#000" />
<rect x="474.1" y="73.93" width="3.6" height="3.6" fill="#000" />
<rect x="469.9" y="76.63" width="3.6" height="3.6" fill="#000" />
<rect x="473.5" y="71.24" width="3.6" height="3.6" fill="#000" />
<line x1="434.2" y1="62.5" x2="450.8" y2="62.5" stroke="#000" stroke-width="0.9" />
<text x="442.5" y="59.9" text-anchor="middle">n.s.</text>
<line x1="464.3" y1="41.5" x2="480.5" y2="41.5" stroke="#000" stroke-width="0.9" />
<text x="472.4" y="42.55" font-size="10" text-anchor="middle" font-weight="bold" fill="#333" letter-spacing="-0.2">***</text>
<text transform="translate(409.6 70.4) rotate(-90)" text-anchor="middle" font-size="8.15" y="1.96">Liver weight (g)</text>
<text x="4.5" y="144" font-size="15.3" font-family="Liberation Sans, Arial, sans-serif" font-weight="bold">E</text>
<line x1="34.5" y1="159.5" x2="34.5" y2="220.5" stroke="#000" stroke-width="1" />
<line x1="33" y1="220.5" x2="34.5" y2="220.5" stroke="#000" stroke-width="0.9" />
<text x="32" y="222.77" text-anchor="end">0</text>
<line x1="33" y1="200.17" x2="34.5" y2="200.17" stroke="#000" stroke-width="0.9" />
<text x="32" y="202.43" text-anchor="end">100</text>
<line x1="33" y1="179.83" x2="34.5" y2="179.83" stroke="#000" stroke-width="0.9" />
<text x="32" y="182.1" text-anchor="end">200</text>
<line x1="33" y1="159.5" x2="34.5" y2="159.5" stroke="#000" stroke-width="0.9" />
<text x="32" y="161.77" text-anchor="end">300</text>
<line x1="34" y1="220.5" x2="88.4" y2="220.5" stroke="#000" stroke-width="1" />
<line x1="46.9" y1="220.5" x2="46.9" y2="222.3" stroke="#000" stroke-width="0.9" />
<line x1="75.4" y1="220.5" x2="75.4" y2="222.3" stroke="#000" stroke-width="0.9" />
<text x="46.9" y="230.1" text-anchor="middle">NCD</text>
<text x="75.4" y="230.1" text-anchor="middle">HFD</text>
<line x1="38.5" y1="208.6" x2="46.9" y2="208.6" stroke="#ee1c25" stroke-width="1" />
<line x1="42.7" y1="208.07" x2="42.7" y2="209.14" stroke="#ee1c25" stroke-width="0.9" />
<line x1="40.1" y1="208.07" x2="45.3" y2="208.07" stroke="#ee1c25" stroke-width="0.9" />
<line x1="40.1" y1="209.14" x2="45.3" y2="209.14" stroke="#ee1c25" stroke-width="0.9" />
<circle cx="42.7" cy="206.27" r="1.8" fill="#ee1c25"/>
<circle cx="41.9" cy="207.28" r="1.8" fill="#ee1c25"/>
<circle cx="43.5" cy="207.89" r="1.8" fill="#ee1c25"/>
<circle cx="41.1" cy="208.3" r="1.8" fill="#ee1c25"/>
<circle cx="44.3" cy="208.71" r="1.8" fill="#ee1c25"/>
<circle cx="41.5" cy="209.32" r="1.8" fill="#ee1c25"/>
<circle cx="43.9" cy="210.33" r="1.8" fill="#ee1c25"/>
<circle cx="42.3" cy="210.74" r="1.8" fill="#ee1c25"/>
<line x1="48.3" y1="211.64" x2="56.7" y2="211.64" stroke="#000" stroke-width="1" />
<line x1="52.5" y1="210.4" x2="52.5" y2="212.88" stroke="#000" stroke-width="0.9" />
<line x1="49.9" y1="210.4" x2="55.1" y2="210.4" stroke="#000" stroke-width="0.9" />
<line x1="49.9" y1="212.88" x2="55.1" y2="212.88" stroke="#000" stroke-width="0.9" />
<rect x="50.7" y="205.48" width="3.6" height="3.6" fill="#000" />
<rect x="49.5" y="207.11" width="3.6" height="3.6" fill="#000" />
<rect x="51.9" y="208.53" width="3.6" height="3.6" fill="#000" />
<rect x="48.3" y="210.57" width="3.6" height="3.6" fill="#000" />
<rect x="53.1" y="212.4" width="3.6" height="3.6" fill="#000" />
<rect x="48.9" y="215.24" width="3.6" height="3.6" fill="#000" />
<rect x="52.5" y="209.55" width="3.6" height="3.6" fill="#000" />
<line x1="65.4" y1="190.03" x2="73.8" y2="190.03" stroke="#ee1c25" stroke-width="1" />
<line x1="69.6" y1="185.43" x2="69.6" y2="194.63" stroke="#ee1c25" stroke-width="0.9" />
<line x1="67" y1="185.43" x2="72.2" y2="185.43" stroke="#ee1c25" stroke-width="0.9" />
<line x1="67" y1="194.63" x2="72.2" y2="194.63" stroke="#ee1c25" stroke-width="0.9" />
<circle cx="69.6" cy="164.38" r="1.8" fill="#ee1c25"/>
<circle cx="68.4" cy="186.75" r="1.8" fill="#ee1c25"/>
<circle cx="70.8" cy="190.61" r="1.8" fill="#ee1c25"/>
<circle cx="67.2" cy="196.3" r="1.8" fill="#ee1c25"/>
<circle cx="72" cy="198.34" r="1.8" fill="#ee1c25"/>
<circle cx="67.8" cy="199.76" r="1.8" fill="#ee1c25"/>
<circle cx="71.4" cy="194.07" r="1.8" fill="#ee1c25"/>
<line x1="75.8" y1="199.88" x2="84.2" y2="199.88" stroke="#000" stroke-width="1" />
<line x1="80" y1="197.84" x2="80" y2="201.91" stroke="#000" stroke-width="0.9" />
<line x1="77.4" y1="197.84" x2="82.6" y2="197.84" stroke="#000" stroke-width="0.9" />
<line x1="77.4" y1="201.91" x2="82.6" y2="201.91" stroke="#000" stroke-width="0.9" />
<rect x="78.2" y="192.27" width="3.6" height="3.6" fill="#000" />
<rect x="77" y="194.5" width="3.6" height="3.6" fill="#000" />
<rect x="79.4" y="196.54" width="3.6" height="3.6" fill="#000" />
<rect x="75.8" y="198.57" width="3.6" height="3.6" fill="#000" />
<rect x="80.6" y="200.81" width="3.6" height="3.6" fill="#000" />
<rect x="76.4" y="208.53" width="3.6" height="3.6" fill="#000" />
<rect x="80" y="195.32" width="3.6" height="3.6" fill="#000" />
<line x1="40.3" y1="201.5" x2="57.3" y2="201.5" stroke="#000" stroke-width="0.9" />
<text x="48.8" y="198.9" text-anchor="middle">n.s.</text>
<line x1="69.2" y1="160.5" x2="85.6" y2="160.5" stroke="#000" stroke-width="0.9" />
<text x="77.4" y="161.55" font-size="10" text-anchor="middle" font-weight="bold" fill="#333" letter-spacing="-0.2">*</text>
<text transform="translate(5 189.2) rotate(-90)" text-anchor="middle" font-size="8.15" y="1.96">Liver TAG</text>
<text transform="translate(14.6 190.1) rotate(-90)" text-anchor="middle" font-size="8.15" y="1.96">(nmol/mg tissue)</text>
<text x="98.7" y="144" font-size="15.3" font-family="Liberation Sans, Arial, sans-serif" font-weight="bold">F</text>
<line x1="120.5" y1="159.5" x2="120.5" y2="220.5" stroke="#000" stroke-width="1" />
<line x1="119" y1="220.5" x2="120.5" y2="220.5" stroke="#000" stroke-width="0.9" />
<text x="118" y="222.77" text-anchor="end">0.0</text>
<line x1="119" y1="205.25" x2="120.5" y2="205.25" stroke="#000" stroke-width="0.9" />
<text x="118" y="207.52" text-anchor="end">0.5</text>
<line x1="119" y1="190" x2="120.5" y2="190" stroke="#000" stroke-width="0.9" />
<text x="118" y="192.27" text-anchor="end">1.0</text>
<line x1="119" y1="174.75" x2="120.5" y2="174.75" stroke="#000" stroke-width="0.9" />
<text x="118" y="177.02" text-anchor="end">1.5</text>
<line x1="119" y1="159.5" x2="120.5" y2="159.5" stroke="#000" stroke-width="0.9" />
<text x="118" y="161.77" text-anchor="end">2.0</text>
<line x1="120" y1="220.5" x2="174.8" y2="220.5" stroke="#000" stroke-width="1" />
<line x1="133.2" y1="220.5" x2="133.2" y2="222.3" stroke="#000" stroke-width="0.9" />
<line x1="160.4" y1="220.5" x2="160.4" y2="222.3" stroke="#000" stroke-width="0.9" />
<text x="133.2" y="230.1" text-anchor="middle">NCD</text>
<text x="160.4" y="230.1" text-anchor="middle">HFD</text>
<line x1="124.8" y1="206.39" x2="133.2" y2="206.39" stroke="#ee1c25" stroke-width="1" />
<line x1="129" y1="205.48" x2="129" y2="207.31" stroke="#ee1c25" stroke-width="0.9" />
<line x1="126.4" y1="205.48" x2="131.6" y2="205.48" stroke="#ee1c25" stroke-width="0.9" />
<line x1="126.4" y1="207.31" x2="131.6" y2="207.31" stroke="#ee1c25" stroke-width="0.9" />
<circle cx="129" cy="202.96" r="1.8" fill="#ee1c25"/>
<circle cx="127.8" cy="205.25" r="1.8" fill="#ee1c25"/>
<circle cx="130.2" cy="206.78" r="1.8" fill="#ee1c25"/>
<circle cx="126.6" cy="208.3" r="1.8" fill="#ee1c25"/>
<circle cx="131.4" cy="209.22" r="1.8" fill="#ee1c25"/>
<circle cx="127.2" cy="205.86" r="1.8" fill="#ee1c25"/>
<line x1="135.3" y1="206.98" x2="143.7" y2="206.98" stroke="#000" stroke-width="1" />
<line x1="139.5" y1="204.52" x2="139.5" y2="209.44" stroke="#000" stroke-width="0.9" />
<line x1="136.9" y1="204.52" x2="142.1" y2="204.52" stroke="#000" stroke-width="0.9" />
<line x1="136.9" y1="209.44" x2="142.1" y2="209.44" stroke="#000" stroke-width="0.9" />
<rect x="137.7" y="193.69" width="3.6" height="3.6" fill="#000" />
<rect x="136.5" y="204.97" width="3.6" height="3.6" fill="#000" />
<rect x="138.9" y="206.19" width="3.6" height="3.6" fill="#000" />
<rect x="135.3" y="207.11" width="3.6" height="3.6" fill="#000" />
<rect x="140.1" y="207.72" width="3.6" height="3.6" fill="#000" />
<rect x="135.9" y="211.38" width="3.6" height="3.6" fill="#000" />
<line x1="151.3" y1="190.61" x2="159.7" y2="190.61" stroke="#ee1c25" stroke-width="1" />
<line x1="155.5" y1="186.62" x2="155.5" y2="194.6" stroke="#ee1c25" stroke-width="0.9" />
<line x1="152.9" y1="186.62" x2="158.1" y2="186.62" stroke="#ee1c25" stroke-width="0.9" />
<line x1="152.9" y1="194.6" x2="158.1" y2="194.6" stroke="#ee1c25" stroke-width="0.9" />
<circle cx="155.5" cy="171.7" r="1.8" fill="#ee1c25"/>
<circle cx="154.3" cy="184.2" r="1.8" fill="#ee1c25"/>
<circle cx="156.7" cy="186.34" r="1.8" fill="#ee1c25"/>
<circle cx="153.1" cy="194.57" r="1.8" fill="#ee1c25"/>
<circle cx="157.9" cy="196.1" r="1.8" fill="#ee1c25"/>
<circle cx="153.7" cy="199.15" r="1.8" fill="#ee1c25"/>
<circle cx="157.3" cy="202.2" r="1.8" fill="#ee1c25"/>
<line x1="161.8" y1="200.46" x2="170.2" y2="200.46" stroke="#000" stroke-width="1" />
<line x1="166" y1="199.39" x2="166" y2="201.53" stroke="#000" stroke-width="0.9" />
<line x1="163.4" y1="199.39" x2="168.6" y2="199.39" stroke="#000" stroke-width="0.9" />
<line x1="163.4" y1="201.53" x2="168.6" y2="201.53" stroke="#000" stroke-width="0.9" />
<rect x="164.2" y="193.69" width="3.6" height="3.6" fill="#000" />
<rect x="163" y="196.74" width="3.6" height="3.6" fill="#000" />
<rect x="165.4" y="197.96" width="3.6" height="3.6" fill="#000" />
<rect x="161.8" y="198.88" width="3.6" height="3.6" fill="#000" />
<rect x="166.6" y="200.4" width="3.6" height="3.6" fill="#000" />
<rect x="162.4" y="201.01" width="3.6" height="3.6" fill="#000" />
<rect x="166" y="201.92" width="3.6" height="3.6" fill="#000" />
<line x1="123.4" y1="191.5" x2="140.6" y2="191.5" stroke="#000" stroke-width="0.9" />
<text x="132" y="188.9" text-anchor="middle">n.s.</text>
<line x1="155.2" y1="166.5" x2="171.6" y2="166.5" stroke="#000" stroke-width="0.9" />
<text x="163.4" y="167.55" font-size="10" text-anchor="middle" font-weight="bold" fill="#333" letter-spacing="-0.2">*</text>
<text transform="translate(102.75 186) rotate(-90)" text-anchor="middle" font-size="8.15" y="1.96">Serum TAG (mmol/L)</text>
<text x="183.7" y="144" font-size="15.3" font-family="Liberation Sans, Arial, sans-serif" font-weight="bold">G</text>
<line x1="207.5" y1="159.5" x2="207.5" y2="220.5" stroke="#000" stroke-width="1" />
<line x1="206" y1="220.5" x2="207.5" y2="220.5" stroke="#000" stroke-width="0.9" />
<text x="205" y="222.77" text-anchor="end">0.0</text>
<line x1="206" y1="200.17" x2="207.5" y2="200.17" stroke="#000" stroke-width="0.9" />
<text x="205" y="202.43" text-anchor="end">0.5</text>
<line x1="206" y1="179.83" x2="207.5" y2="179.83" stroke="#000" stroke-width="0.9" />
<text x="205" y="182.1" text-anchor="end">1.0</text>
<line x1="206" y1="159.5" x2="207.5" y2="159.5" stroke="#000" stroke-width="0.9" />
<text x="205" y="161.77" text-anchor="end">1.5</text>
<line x1="207" y1="220.5" x2="260.4" y2="220.5" stroke="#000" stroke-width="1" />
<line x1="221" y1="220.5" x2="221" y2="222.3" stroke="#000" stroke-width="0.9" />
<line x1="248.2" y1="220.5" x2="248.2" y2="222.3" stroke="#000" stroke-width="0.9" />
<text x="221" y="230.1" text-anchor="middle">NCD</text>
<text x="248.2" y="230.1" text-anchor="middle">HFD</text>
<line x1="211.8" y1="209.59" x2="220.2" y2="209.59" stroke="#ee1c25" stroke-width="1" />
<line x1="216" y1="206.9" x2="216" y2="212.27" stroke="#ee1c25" stroke-width="0.9" />
<line x1="213.4" y1="206.9" x2="218.6" y2="206.9" stroke="#ee1c25" stroke-width="0.9" />
<line x1="213.4" y1="212.27" x2="218.6" y2="212.27" stroke="#ee1c25" stroke-width="0.9" />
<circle cx="216" cy="197.32" r="1.8" fill="#ee1c25"/>
<circle cx="214.8" cy="208.3" r="1.8" fill="#ee1c25"/>
<circle cx="217.2" cy="210.33" r="1.8" fill="#ee1c25"/>
<circle cx="213.6" cy="211.55" r="1.8" fill="#ee1c25"/>
<circle cx="218.4" cy="214.4" r="1.8" fill="#ee1c25"/>
<circle cx="214.2" cy="215.62" r="1.8" fill="#ee1c25"/>
<line x1="222.1" y1="203.34" x2="230.5" y2="203.34" stroke="#000" stroke-width="1" />
<line x1="226.3" y1="202.69" x2="226.3" y2="203.99" stroke="#000" stroke-width="0.9" />
<line x1="223.7" y1="202.69" x2="228.9" y2="202.69" stroke="#000" stroke-width="0.9" />
<line x1="223.7" y1="203.99" x2="228.9" y2="203.99" stroke="#000" stroke-width="0.9" />
<rect x="224.5" y="199.18" width="3.6" height="3.6" fill="#000" />
<rect x="223.3" y="201.21" width="3.6" height="3.6" fill="#000" />
<rect x="225.7" y="202.03" width="3.6" height="3.6" fill="#000" />
<rect x="222.1" y="202.43" width="3.6" height="3.6" fill="#000" />
<rect x="226.9" y="202.84" width="3.6" height="3.6" fill="#000" />
<line x1="237.8" y1="198.54" x2="246.2" y2="198.54" stroke="#ee1c25" stroke-width="1" />
<line x1="242" y1="194.69" x2="242" y2="202.39" stroke="#ee1c25" stroke-width="0.9" />
<line x1="239.4" y1="194.69" x2="244.6" y2="194.69" stroke="#ee1c25" stroke-width="0.9" />
<line x1="239.4" y1="202.39" x2="244.6" y2="202.39" stroke="#ee1c25" stroke-width="0.9" />
<circle cx="242" cy="181.46" r="1.8" fill="#ee1c25"/>
<circle cx="240.8" cy="196.1" r="1.8" fill="#ee1c25"/>
<circle cx="243.2" cy="198.13" r="1.8" fill="#ee1c25"/>
<circle cx="239.6" cy="203.01" r="1.8" fill="#ee1c25"/>
<circle cx="244.4" cy="204.23" r="1.8" fill="#ee1c25"/>
<circle cx="240.2" cy="208.3" r="1.8" fill="#ee1c25"/>
<line x1="248.8" y1="192.64" x2="257.2" y2="192.64" stroke="#000" stroke-width="1" />
<line x1="253" y1="191.06" x2="253" y2="194.23" stroke="#000" stroke-width="0.9" />
<line x1="250.4" y1="191.06" x2="255.6" y2="191.06" stroke="#000" stroke-width="0.9" />
<line x1="250.4" y1="194.23" x2="255.6" y2="194.23" stroke="#000" stroke-width="0.9" />
<rect x="251.2" y="184.13" width="3.6" height="3.6" fill="#000" />
<rect x="250" y="189.01" width="3.6" height="3.6" fill="#000" />
<rect x="252.4" y="191.05" width="3.6" height="3.6" fill="#000" />
<rect x="248.8" y="192.27" width="3.6" height="3.6" fill="#000" />
<rect x="253.6" y="193.49" width="3.6" height="3.6" fill="#000" />
<rect x="249.4" y="195.11" width="3.6" height="3.6" fill="#000" />
<line x1="214" y1="193.5" x2="230.7" y2="193.5" stroke="#000" stroke-width="0.9" />
<text x="222.35" y="190.9" text-anchor="middle">n.s.</text>
<line x1="241.2" y1="177.5" x2="257.6" y2="177.5" stroke="#000" stroke-width="0.9" />
<text x="249.4" y="174.9" text-anchor="middle">n.s.</text>
<text transform="translate(188.75 187) rotate(-90)" text-anchor="middle" font-size="8.15" y="1.96">Serum FFA (mmol/L)</text>
<text x="264.5" y="144" font-size="15.3" font-family="Liberation Sans, Arial, sans-serif" font-weight="bold">H</text>
<line x1="295.5" y1="159.5" x2="295.5" y2="220.5" stroke="#000" stroke-width="1" />
<line x1="294" y1="220.5" x2="295.5" y2="220.5" stroke="#000" stroke-width="0.9" />
<text x="293" y="222.77" text-anchor="end">0</text>
<line x1="294" y1="200.17" x2="295.5" y2="200.17" stroke="#000" stroke-width="0.9" />
<text x="293" y="202.43" text-anchor="end">100</text>
<line x1="294" y1="179.83" x2="295.5" y2="179.83" stroke="#000" stroke-width="0.9" />
<text x="293" y="182.1" text-anchor="end">200</text>
<line x1="294" y1="159.5" x2="295.5" y2="159.5" stroke="#000" stroke-width="0.9" />
<text x="293" y="161.77" text-anchor="end">300</text>
<line x1="295" y1="220.5" x2="349.8" y2="220.5" stroke="#000" stroke-width="1" />
<line x1="308.9" y1="220.5" x2="308.9" y2="222.3" stroke="#000" stroke-width="0.9" />
<line x1="336.8" y1="220.5" x2="336.8" y2="222.3" stroke="#000" stroke-width="0.9" />
<text x="308.9" y="230.1" text-anchor="middle">NCD</text>
<text x="336.8" y="230.1" text-anchor="middle">HFD</text>
<line x1="299.8" y1="191.69" x2="308.2" y2="191.69" stroke="#ee1c25" stroke-width="1" />
<line x1="304" y1="189.52" x2="304" y2="193.86" stroke="#ee1c25" stroke-width="0.9" />
<line x1="301.4" y1="189.52" x2="306.6" y2="189.52" stroke="#ee1c25" stroke-width="0.9" />
<line x1="301.4" y1="193.86" x2="306.6" y2="193.86" stroke="#ee1c25" stroke-width="0.9" />
<circle cx="304" cy="187.15" r="1.8" fill="#ee1c25"/>
<circle cx="302.8" cy="187.97" r="1.8" fill="#ee1c25"/>
<circle cx="305.2" cy="188.37" r="1.8" fill="#ee1c25"/>
<circle cx="301.6" cy="191.42" r="1.8" fill="#ee1c25"/>
<circle cx="306.4" cy="194.07" r="1.8" fill="#ee1c25"/>
<circle cx="302.2" cy="201.18" r="1.8" fill="#ee1c25"/>
<line x1="309.6" y1="195.42" x2="318" y2="195.42" stroke="#000" stroke-width="1" />
<line x1="313.8" y1="193.73" x2="313.8" y2="197.11" stroke="#000" stroke-width="0.9" />
<line x1="311.2" y1="193.73" x2="316.4" y2="193.73" stroke="#000" stroke-width="0.9" />
<line x1="311.2" y1="197.11" x2="316.4" y2="197.11" stroke="#000" stroke-width="0.9" />
<rect x="312" y="187.59" width="3.6" height="3.6" fill="#000" />
<rect x="310.8" y="191.25" width="3.6" height="3.6" fill="#000" />
<rect x="313.2" y="193.28" width="3.6" height="3.6" fill="#000" />
<rect x="309.6" y="193.89" width="3.6" height="3.6" fill="#000" />
<rect x="314.4" y="195.93" width="3.6" height="3.6" fill="#000" />
<rect x="310.2" y="199.79" width="3.6" height="3.6" fill="#000" />
<line x1="326.3" y1="189.15" x2="334.7" y2="189.15" stroke="#ee1c25" stroke-width="1" />
<line x1="330.5" y1="186.31" x2="330.5" y2="192" stroke="#ee1c25" stroke-width="0.9" />
<line x1="327.9" y1="186.31" x2="333.1" y2="186.31" stroke="#ee1c25" stroke-width="0.9" />
<line x1="327.9" y1="192" x2="333.1" y2="192" stroke="#ee1c25" stroke-width="0.9" />
<circle cx="330.5" cy="178.21" r="1.8" fill="#ee1c25"/>
<circle cx="329.3" cy="185.93" r="1.8" fill="#ee1c25"/>
<circle cx="331.7" cy="187.56" r="1.8" fill="#ee1c25"/>
<circle cx="328.1" cy="190.41" r="1.8" fill="#ee1c25"/>
<circle cx="332.9" cy="195.08" r="1.8" fill="#ee1c25"/>
<circle cx="328.7" cy="197.73" r="1.8" fill="#ee1c25"/>
<line x1="336.8" y1="182.92" x2="345.2" y2="182.92" stroke="#000" stroke-width="1" />
<line x1="341" y1="178.47" x2="341" y2="187.37" stroke="#000" stroke-width="0.9" />
<line x1="338.4" y1="178.47" x2="343.6" y2="178.47" stroke="#000" stroke-width="0.9" />
<line x1="338.4" y1="187.37" x2="343.6" y2="187.37" stroke="#000" stroke-width="0.9" />
<rect x="339.2" y="169.09" width="3.6" height="3.6" fill="#000" />
<rect x="338" y="171.53" width="3.6" height="3.6" fill="#000" />
<rect x="340.4" y="187.18" width="3.6" height="3.6" fill="#000" />
<rect x="336.8" y="188.2" width="3.6" height="3.6" fill="#000" />
<rect x="341.6" y="189.62" width="3.6" height="3.6" fill="#000" />
<line x1="303.3" y1="182.5" x2="319.6" y2="182.5" stroke="#000" stroke-width="0.9" />
<text x="311.45" y="179.9" text-anchor="middle">n.s.</text>
<line x1="326" y1="166.5" x2="342.8" y2="166.5" stroke="#000" stroke-width="0.9" />
<text x="334.4" y="163.9" text-anchor="middle">n.s.</text>
<text transform="translate(273.4 187.5) rotate(-90)" text-anchor="middle" font-size="8.15" y="1.96">Serum glycerol (&#956;mol/L)</text>
<text x="357" y="144" font-size="15.3" font-family="Liberation Sans, Arial, sans-serif" font-weight="bold">I</text>
<line x1="380.5" y1="159.5" x2="380.5" y2="220.5" stroke="#000" stroke-width="1" />
<line x1="379" y1="220.5" x2="380.5" y2="220.5" stroke="#000" stroke-width="0.9" />
<text x="378" y="222.77" text-anchor="end">0</text>
<line x1="379" y1="205.25" x2="380.5" y2="205.25" stroke="#000" stroke-width="0.9" />
<text x="378" y="207.52" text-anchor="end">50</text>
<line x1="379" y1="190" x2="380.5" y2="190" stroke="#000" stroke-width="0.9" />
<text x="378" y="192.27" text-anchor="end">100</text>
<line x1="379" y1="174.75" x2="380.5" y2="174.75" stroke="#000" stroke-width="0.9" />
<text x="378" y="177.02" text-anchor="end">150</text>
<line x1="379" y1="159.5" x2="380.5" y2="159.5" stroke="#000" stroke-width="0.9" />
<text x="378" y="161.77" text-anchor="end">200</text>
<line x1="380" y1="220.5" x2="434.8" y2="220.5" stroke="#000" stroke-width="1" />
<line x1="393.2" y1="220.5" x2="393.2" y2="222.3" stroke="#000" stroke-width="0.9" />
<line x1="420.4" y1="220.5" x2="420.4" y2="222.3" stroke="#000" stroke-width="0.9" />
<text x="393.2" y="230.1" text-anchor="middle">NCD</text>
<text x="420.4" y="230.1" text-anchor="middle">HFD</text>
<line x1="384.5" y1="217.29" x2="392.9" y2="217.29" stroke="#ee1c25" stroke-width="1" />
<line x1="388.7" y1="216.5" x2="388.7" y2="218.08" stroke="#ee1c25" stroke-width="0.9" />
<line x1="386.1" y1="216.5" x2="391.3" y2="216.5" stroke="#ee1c25" stroke-width="0.9" />
<line x1="386.1" y1="218.08" x2="391.3" y2="218.08" stroke="#ee1c25" stroke-width="0.9" />
<circle cx="388.7" cy="213.79" r="1.8" fill="#ee1c25"/>
<circle cx="387.5" cy="217.3" r="1.8" fill="#ee1c25"/>
<circle cx="389.9" cy="218.37" r="1.8" fill="#ee1c25"/>
<circle cx="386.3" cy="219.4" r="1.8" fill="#ee1c25"/>
<circle cx="391.1" cy="218.06" r="1.8" fill="#ee1c25"/>
<circle cx="386.9" cy="216.84" r="1.8" fill="#ee1c25"/>
<line x1="394.3" y1="216.47" x2="402.7" y2="216.47" stroke="#000" stroke-width="1" />
<line x1="398.5" y1="215.87" x2="398.5" y2="217.08" stroke="#000" stroke-width="0.9" />
<line x1="395.9" y1="215.87" x2="401.1" y2="215.87" stroke="#000" stroke-width="0.9" />
<line x1="395.9" y1="217.08" x2="401.1" y2="217.08" stroke="#000" stroke-width="0.9" />
<rect x="396.7" y="212.91" width="3.6" height="3.6" fill="#000" />
<rect x="395.5" y="213.82" width="3.6" height="3.6" fill="#000" />
<rect x="397.9" y="214.73" width="3.6" height="3.6" fill="#000" />
<rect x="394.3" y="215.65" width="3.6" height="3.6" fill="#000" />
<rect x="399.1" y="216.26" width="3.6" height="3.6" fill="#000" />
<line x1="411.6" y1="175.63" x2="420" y2="175.63" stroke="#ee1c25" stroke-width="1" />
<line x1="415.8" y1="172.04" x2="415.8" y2="179.21" stroke="#ee1c25" stroke-width="0.9" />
<line x1="413.2" y1="172.04" x2="418.4" y2="172.04" stroke="#ee1c25" stroke-width="0.9" />
<line x1="413.2" y1="179.21" x2="418.4" y2="179.21" stroke="#ee1c25" stroke-width="0.9" />
<circle cx="415.8" cy="161.33" r="1.8" fill="#ee1c25"/>
<circle cx="414.6" cy="164.69" r="1.8" fill="#ee1c25"/>
<circle cx="417" cy="168.04" r="1.8" fill="#ee1c25"/>
<circle cx="413.4" cy="178.11" r="1.8" fill="#ee1c25"/>
<circle cx="418.2" cy="179.32" r="1.8" fill="#ee1c25"/>
<circle cx="414" cy="180.55" r="1.8" fill="#ee1c25"/>
<circle cx="417.6" cy="181.16" r="1.8" fill="#ee1c25"/>
<circle cx="415.2" cy="191.83" r="1.8" fill="#ee1c25"/>
<line x1="421.4" y1="200.81" x2="429.8" y2="200.81" stroke="#000" stroke-width="1" />
<line x1="425.6" y1="198.06" x2="425.6" y2="203.56" stroke="#000" stroke-width="0.9" />
<line x1="423" y1="198.06" x2="428.2" y2="198.06" stroke="#000" stroke-width="0.9" />
<line x1="423" y1="203.56" x2="428.2" y2="203.56" stroke="#000" stroke-width="0.9" />
<rect x="423.8" y="185.76" width="3.6" height="3.6" fill="#000" />
<rect x="422.6" y="190.03" width="3.6" height="3.6" fill="#000" />
<rect x="425" y="195.21" width="3.6" height="3.6" fill="#000" />
<rect x="421.4" y="197.35" width="3.6" height="3.6" fill="#000" />
<rect x="426.2" y="198.88" width="3.6" height="3.6" fill="#000" />
<rect x="422" y="200.7" width="3.6" height="3.6" fill="#000" />
<rect x="425.6" y="202.84" width="3.6" height="3.6" fill="#000" />
<rect x="423.2" y="208.63" width="3.6" height="3.6" fill="#000" />
<rect x="424.4" y="211.69" width="3.6" height="3.6" fill="#000" />
<line x1="384.8" y1="210.5" x2="401.6" y2="210.5" stroke="#000" stroke-width="0.9" />
<text x="393.2" y="207.9" text-anchor="middle">n.s.</text>
<line x1="415.2" y1="156.5" x2="431.6" y2="156.5" stroke="#000" stroke-width="0.9" />
<text x="423.4" y="157.55" font-size="10" text-anchor="middle" font-weight="bold" fill="#333" letter-spacing="-0.2">***</text>
<text transform="translate(358.75 190.5) rotate(-90)" text-anchor="middle" font-size="8.15" y="1.96">Leptin (ng/mL)</text>
<text x="438" y="144" font-size="15.3" font-family="Liberation Sans, Arial, sans-serif" font-weight="bold">J</text>
<circle cx="489.3" cy="131.5" r="2" fill="#ee1c25"/>
<text x="493.6" y="134.25">WT</text>
<rect x="487.5" y="138.9" width="3.6" height="3.6" fill="#000" />
<text x="493.6" y="143.45">TKT<tspan font-size="5.02" dy="-2.59">AKO</tspan><tspan dy="2.59"></tspan></text>
<line x1="464.5" y1="159.5" x2="464.5" y2="220.5" stroke="#000" stroke-width="1" />
<line x1="463" y1="220.5" x2="464.5" y2="220.5" stroke="#000" stroke-width="0.9" />
<text x="462" y="222.77" text-anchor="end">0</text>
<line x1="463" y1="200.17" x2="464.5" y2="200.17" stroke="#000" stroke-width="0.9" />
<text x="462" y="202.43" text-anchor="end">5</text>
<line x1="463" y1="179.83" x2="464.5" y2="179.83" stroke="#000" stroke-width="0.9" />
<text x="462" y="182.1" text-anchor="end">10</text>
<line x1="463" y1="159.5" x2="464.5" y2="159.5" stroke="#000" stroke-width="0.9" />
<text x="462" y="161.77" text-anchor="end">15</text>
<line x1="464" y1="220.5" x2="517.2" y2="220.5" stroke="#000" stroke-width="1" />
<line x1="477.4" y1="220.5" x2="477.4" y2="222.3" stroke="#000" stroke-width="0.9" />
<line x1="504.2" y1="220.5" x2="504.2" y2="222.3" stroke="#000" stroke-width="0.9" />
<text x="477.4" y="230.1" text-anchor="middle">NCD</text>
<text x="504.2" y="230.1" text-anchor="middle">HFD</text>
<line x1="468.6" y1="182.88" x2="477" y2="182.88" stroke="#ee1c25" stroke-width="1" />
<line x1="472.8" y1="180.06" x2="472.8" y2="185.71" stroke="#ee1c25" stroke-width="0.9" />
<line x1="470.2" y1="180.06" x2="475.4" y2="180.06" stroke="#ee1c25" stroke-width="0.9" />
<line x1="470.2" y1="185.71" x2="475.4" y2="185.71" stroke="#ee1c25" stroke-width="0.9" />
<circle cx="472.8" cy="174.14" r="1.8" fill="#ee1c25"/>
<circle cx="471.6" cy="175.36" r="1.8" fill="#ee1c25"/>
<circle cx="474" cy="183.49" r="1.8" fill="#ee1c25"/>
<circle cx="470.4" cy="185.53" r="1.8" fill="#ee1c25"/>
<circle cx="475.2" cy="186.75" r="1.8" fill="#ee1c25"/>
<circle cx="471" cy="192.03" r="1.8" fill="#ee1c25"/>
<line x1="479" y1="185.04" x2="487.4" y2="185.04" stroke="#000" stroke-width="1" />
<line x1="483.2" y1="183.54" x2="483.2" y2="186.54" stroke="#000" stroke-width="0.9" />
<line x1="480.6" y1="183.54" x2="485.8" y2="183.54" stroke="#000" stroke-width="0.9" />
<line x1="480.6" y1="186.54" x2="485.8" y2="186.54" stroke="#000" stroke-width="0.9" />
<rect x="481.4" y="178.85" width="3.6" height="3.6" fill="#000" />
<rect x="480.2" y="181.29" width="3.6" height="3.6" fill="#000" />
<rect x="482.6" y="183.32" width="3.6" height="3.6" fill="#000" />
<rect x="479" y="185.35" width="3.6" height="3.6" fill="#000" />
<rect x="483.8" y="187.39" width="3.6" height="3.6" fill="#000" />
<line x1="496.2" y1="197.95" x2="504.6" y2="197.95" stroke="#ee1c25" stroke-width="1" />
<line x1="500.4" y1="196.49" x2="500.4" y2="199.41" stroke="#ee1c25" stroke-width="0.9" />
<line x1="497.8" y1="196.49" x2="503" y2="196.49" stroke="#ee1c25" stroke-width="0.9" />
<line x1="497.8" y1="199.41" x2="503" y2="199.41" stroke="#ee1c25" stroke-width="0.9" />
<circle cx="500.4" cy="191.63" r="1.8" fill="#ee1c25"/>
<circle cx="499.2" cy="194.88" r="1.8" fill="#ee1c25"/>
<circle cx="501.6" cy="196.91" r="1.8" fill="#ee1c25"/>
<circle cx="498" cy="198.34" r="1.8" fill="#ee1c25"/>
<circle cx="502.8" cy="199.76" r="1.8" fill="#ee1c25"/>
<circle cx="498.6" cy="201.14" r="1.8" fill="#ee1c25"/>
<circle cx="502.2" cy="203.01" r="1.8" fill="#ee1c25"/>
<line x1="506.3" y1="192.98" x2="514.7" y2="192.98" stroke="#000" stroke-width="1" />
<line x1="510.5" y1="191.64" x2="510.5" y2="194.32" stroke="#000" stroke-width="0.9" />
<line x1="507.9" y1="191.64" x2="513.1" y2="191.64" stroke="#000" stroke-width="0.9" />
<line x1="507.9" y1="194.32" x2="513.1" y2="194.32" stroke="#000" stroke-width="0.9" />
<rect x="508.7" y="186.17" width="3.6" height="3.6" fill="#000" />
<rect x="507.5" y="188.81" width="3.6" height="3.6" fill="#000" />
<rect x="509.9" y="191.05" width="3.6" height="3.6" fill="#000" />
<rect x="506.3" y="192.27" width="3.6" height="3.6" fill="#000" />
<rect x="511.1" y="193.69" width="3.6" height="3.6" fill="#000" />
<rect x="506.9" y="195.11" width="3.6" height="3.6" fill="#000" />
<line x1="469.3" y1="170.5" x2="486" y2="170.5" stroke="#000" stroke-width="0.9" />
<text x="477.65" y="167.9" text-anchor="middle">n.s.</text>
<line x1="494.8" y1="183.5" x2="511.6" y2="183.5" stroke="#000" stroke-width="0.9" />
<text x="503.2" y="184.55" font-size="10" text-anchor="middle" font-weight="bold" fill="#333" letter-spacing="-0.2">**</text>
<text transform="translate(447 187.9) rotate(-90)" text-anchor="middle" font-size="8.15" y="1.96">Adiponectin (&#956;g/mL)</text>
<text x="4.5" y="254.1" font-size="15.3" font-family="Liberation Sans, Arial, sans-serif" font-weight="bold">K</text>
<line x1="31.5" y1="284.6" x2="31.5" y2="353.5" stroke="#000" stroke-width="1" />
<line x1="30" y1="353.5" x2="31.5" y2="353.5" stroke="#000" stroke-width="0.9" />
<text x="27.6" y="355.77" text-anchor="end">0</text>
<line x1="30" y1="336.27" x2="31.5" y2="336.27" stroke="#000" stroke-width="0.9" />
<text x="27.6" y="338.54" text-anchor="end">5</text>
<line x1="30" y1="319.05" x2="31.5" y2="319.05" stroke="#000" stroke-width="0.9" />
<text x="27.6" y="321.32" text-anchor="end">10</text>
<line x1="30" y1="301.83" x2="31.5" y2="301.83" stroke="#000" stroke-width="0.9" />
<text x="27.6" y="304.09" text-anchor="end">15</text>
<line x1="30" y1="284.6" x2="31.5" y2="284.6" stroke="#000" stroke-width="0.9" />
<text x="27.6" y="286.87" text-anchor="end">20</text>
<line x1="31" y1="353.5" x2="111.7" y2="353.5" stroke="#000" stroke-width="1" />
<line x1="31.15" y1="353.5" x2="31.15" y2="355.5" stroke="#000" stroke-width="0.9" />
<text x="31.15" y="362.5" text-anchor="middle">0</text>
<line x1="51.29" y1="353.5" x2="51.29" y2="355.5" stroke="#000" stroke-width="0.9" />
<text x="51.29" y="362.5" text-anchor="middle">30</text>
<line x1="71.43" y1="353.5" x2="71.43" y2="355.5" stroke="#000" stroke-width="0.9" />
<text x="71.43" y="362.5" text-anchor="middle">60</text>
<line x1="91.56" y1="353.5" x2="91.56" y2="355.5" stroke="#000" stroke-width="0.9" />
<text x="91.56" y="362.5" text-anchor="middle">90</text>
<line x1="111.7" y1="353.5" x2="111.7" y2="355.5" stroke="#000" stroke-width="0.9" />
<text x="111.7" y="362.5" text-anchor="middle">120</text>
<text x="71.9" y="371.9" text-anchor="middle">Time (min)</text>
<text transform="translate(11.3 320.2) rotate(-90)" text-anchor="middle" font-size="8.3" y="1.99">Blood glucose (mmol/L)</text>
<polyline points="31.15,337.48 41.22,302.86 51.29,305.79 71.43,318.81 91.56,324.22 111.7,328.8" fill="none" stroke="#000" stroke-width="1" stroke-linejoin="round"/>
<line x1="41.22" y1="305.61" x2="41.22" y2="300.1" stroke="#000" stroke-width="0.85" />
<line x1="39.62" y1="300.1" x2="42.82" y2="300.1" stroke="#000" stroke-width="0.85" />
<line x1="39.62" y1="305.61" x2="42.82" y2="305.61" stroke="#000" stroke-width="0.85" />
<line x1="51.29" y1="309.23" x2="51.29" y2="302.34" stroke="#000" stroke-width="0.85" />
<line x1="49.69" y1="302.34" x2="52.89" y2="302.34" stroke="#000" stroke-width="0.85" />
<line x1="49.69" y1="309.23" x2="52.89" y2="309.23" stroke="#000" stroke-width="0.85" />
<line x1="71.43" y1="320.88" x2="71.43" y2="316.74" stroke="#000" stroke-width="0.85" />
<line x1="69.83" y1="316.74" x2="73.03" y2="316.74" stroke="#000" stroke-width="0.85" />
<line x1="69.83" y1="320.88" x2="73.03" y2="320.88" stroke="#000" stroke-width="0.85" />
<line x1="91.56" y1="325.25" x2="91.56" y2="323.18" stroke="#000" stroke-width="0.85" />
<line x1="89.96" y1="323.18" x2="93.16" y2="323.18" stroke="#000" stroke-width="0.85" />
<line x1="89.96" y1="325.25" x2="93.16" y2="325.25" stroke="#000" stroke-width="0.85" />
<circle cx="31.15" cy="337.48" r="1.75" fill="#fff" stroke="#000" stroke-width="0.95"/>
<circle cx="41.22" cy="302.86" r="1.75" fill="#fff" stroke="#000" stroke-width="0.95"/>
<circle cx="51.29" cy="305.79" r="1.75" fill="#fff" stroke="#000" stroke-width="0.95"/>
<circle cx="71.43" cy="318.81" r="1.75" fill="#fff" stroke="#000" stroke-width="0.95"/>
<circle cx="91.56" cy="324.22" r="1.75" fill="#fff" stroke="#000" stroke-width="0.95"/>
<circle cx="111.7" cy="328.8" r="1.75" fill="#fff" stroke="#000" stroke-width="0.95"/>
<polyline points="31.15,336.96 41.22,296.31 51.29,298.38 71.43,305.79 91.56,312.85 111.7,319.22" fill="none" stroke="#ee1c25" stroke-width="1" stroke-linejoin="round"/>
<line x1="41.22" y1="301.14" x2="41.22" y2="291.49" stroke="#ee1c25" stroke-width="0.85" />
<line x1="39.62" y1="291.49" x2="42.82" y2="291.49" stroke="#ee1c25" stroke-width="0.85" />
<line x1="39.62" y1="301.14" x2="42.82" y2="301.14" stroke="#ee1c25" stroke-width="0.85" />
<line x1="71.43" y1="308.89" x2="71.43" y2="302.69" stroke="#ee1c25" stroke-width="0.85" />
<line x1="69.83" y1="302.69" x2="73.03" y2="302.69" stroke="#ee1c25" stroke-width="0.85" />
<line x1="69.83" y1="308.89" x2="73.03" y2="308.89" stroke="#ee1c25" stroke-width="0.85" />
<line x1="91.56" y1="315.95" x2="91.56" y2="309.75" stroke="#ee1c25" stroke-width="0.85" />
<line x1="89.96" y1="309.75" x2="93.16" y2="309.75" stroke="#ee1c25" stroke-width="0.85" />
<line x1="89.96" y1="315.95" x2="93.16" y2="315.95" stroke="#ee1c25" stroke-width="0.85" />
<circle cx="31.15" cy="336.96" r="1.75" fill="#fff" stroke="#ee1c25" stroke-width="0.95"/>
<circle cx="41.22" cy="296.31" r="1.75" fill="#fff" stroke="#ee1c25" stroke-width="0.95"/>
<circle cx="51.29" cy="298.38" r="1.75" fill="#fff" stroke="#ee1c25" stroke-width="0.95"/>
<circle cx="71.43" cy="305.79" r="1.75" fill="#fff" stroke="#ee1c25" stroke-width="0.95"/>
<circle cx="91.56" cy="312.85" r="1.75" fill="#fff" stroke="#ee1c25" stroke-width="0.95"/>
<circle cx="111.7" cy="319.22" r="1.75" fill="#fff" stroke="#ee1c25" stroke-width="0.95"/>
<text x="71.43" y="306.45" font-size="10" text-anchor="middle" font-weight="bold" fill="#333" letter-spacing="-0.2">*</text>
<text x="91.56" y="312.15" font-size="10" text-anchor="middle" font-weight="bold" fill="#333" letter-spacing="-0.2">*</text>
<text x="111.7" y="319.85" font-size="10" text-anchor="middle" font-weight="bold" fill="#333" letter-spacing="-0.2">**</text>
<line x1="103" y1="261.3" x2="110" y2="261.3" stroke="#ee1c25" stroke-width="1" />
<circle cx="106.5" cy="261.3" r="1.5" fill="#fff" stroke="#ee1c25" stroke-width="0.95"/>
<text x="110.6" y="264.1">WT NCD</text>
<line x1="103" y1="270.5" x2="110" y2="270.5" stroke="#000" stroke-width="1" />
<circle cx="106.5" cy="270.5" r="1.5" fill="#fff" stroke="#000" stroke-width="0.95"/>
<text x="110.6" y="273.3">TKT<tspan font-size="5.02" dy="-2.59">AKO</tspan><tspan dy="2.59" dx="1.1">NCD</tspan></text>
<rect x="176.2" y="299.95" width="14.6" height="52.55" fill="#fff" stroke="#ee1c25" stroke-width="1.15" />
<line x1="183.5" y1="299.95" x2="183.5" y2="297.93" stroke="#ee1c25" stroke-width="0.9" />
<line x1="181.3" y1="297.93" x2="185.7" y2="297.93" stroke="#ee1c25" stroke-width="0.9" />
<circle cx="183.5" cy="289.39" r="1.45" fill="none" stroke="#ee1c25" stroke-width="0.85"/>
<circle cx="180.9" cy="291.75" r="1.45" fill="none" stroke="#ee1c25" stroke-width="0.85"/>
<circle cx="186.1" cy="292.76" r="1.45" fill="none" stroke="#ee1c25" stroke-width="0.85"/>
<circle cx="182.2" cy="296.81" r="1.45" fill="none" stroke="#ee1c25" stroke-width="0.85"/>
<circle cx="184.8" cy="301.2" r="1.45" fill="none" stroke="#ee1c25" stroke-width="0.85"/>
<circle cx="180.1" cy="302.55" r="1.45" fill="none" stroke="#ee1c25" stroke-width="0.85"/>
<circle cx="186.9" cy="303.56" r="1.45" fill="none" stroke="#ee1c25" stroke-width="0.85"/>
<circle cx="183.5" cy="304.24" r="1.45" fill="none" stroke="#ee1c25" stroke-width="0.85"/>
<circle cx="181.5" cy="305.25" r="1.45" fill="none" stroke="#ee1c25" stroke-width="0.85"/>
<rect x="196.2" y="311.32" width="14.3" height="41.18" fill="#fff" stroke="#000" stroke-width="1.15" />
<line x1="203.35" y1="311.32" x2="203.35" y2="309.64" stroke="#000" stroke-width="0.9" />
<line x1="201.15" y1="309.64" x2="205.55" y2="309.64" stroke="#000" stroke-width="0.9" />
<circle cx="203.35" cy="302.55" r="1.45" fill="none" stroke="#000" stroke-width="0.85"/>
<circle cx="200.75" cy="304.57" r="1.45" fill="none" stroke="#000" stroke-width="0.85"/>
<circle cx="205.95" cy="305.93" r="1.45" fill="none" stroke="#000" stroke-width="0.85"/>
<circle cx="202.05" cy="308.62" r="1.45" fill="none" stroke="#000" stroke-width="0.85"/>
<circle cx="204.65" cy="309.98" r="1.45" fill="none" stroke="#000" stroke-width="0.85"/>
<circle cx="199.95" cy="313.35" r="1.45" fill="none" stroke="#000" stroke-width="0.85"/>
<circle cx="206.75" cy="317.06" r="1.45" fill="none" stroke="#000" stroke-width="0.85"/>
<line x1="172.5" y1="285" x2="172.5" y2="352.5" stroke="#000" stroke-width="1" />
<line x1="171" y1="352.5" x2="172.5" y2="352.5" stroke="#000" stroke-width="0.9" />
<text x="170" y="354.77" text-anchor="end">0</text>
<line x1="171" y1="335.62" x2="172.5" y2="335.62" stroke="#000" stroke-width="0.9" />
<text x="170" y="337.89" text-anchor="end">500</text>
<line x1="171" y1="318.75" x2="172.5" y2="318.75" stroke="#000" stroke-width="0.9" />
<text x="170" y="321.02" text-anchor="end">1000</text>
<line x1="171" y1="301.88" x2="172.5" y2="301.88" stroke="#000" stroke-width="0.9" />
<text x="170" y="304.14" text-anchor="end">1500</text>
<line x1="171" y1="285" x2="172.5" y2="285" stroke="#000" stroke-width="0.9" />
<text x="170" y="287.27" text-anchor="end">2000</text>
<line x1="172" y1="352.5" x2="212.3" y2="352.5" stroke="#000" stroke-width="1" />
<line x1="180.8" y1="285.5" x2="207.7" y2="285.5" stroke="#000" stroke-width="0.9" />
<text x="194.25" y="286.55" font-size="10" text-anchor="middle" font-weight="bold" fill="#333" letter-spacing="-0.2">**</text>
<text transform="translate(148 318) rotate(-90)" text-anchor="middle" font-size="8.15" y="1.96">GTT AUC</text>
<rect x="193.8" y="258.1" width="8.2" height="3.8" fill="#fff" stroke="#ee1c25" stroke-width="1" />
<text x="203.6" y="262.7">WT NCD</text>
<rect x="193.8" y="268.1" width="8.2" height="3.8" fill="#fff" stroke="#000" stroke-width="1" />
<text x="203.6" y="272.7">TKT<tspan font-size="5.02" dy="-2.59">AKO</tspan><tspan dy="2.59" dx="1.1">NCD</tspan></text>
<text x="246.2" y="253.9" font-size="15.3" font-family="Liberation Sans, Arial, sans-serif" font-weight="bold">L</text>
<line x1="271.5" y1="279.5" x2="271.5" y2="353.5" stroke="#000" stroke-width="1" />
<line x1="270" y1="353.5" x2="271.5" y2="353.5" stroke="#000" stroke-width="0.9" />
<text x="267.6" y="355.77" text-anchor="end">0</text>
<line x1="270" y1="335" x2="271.5" y2="335" stroke="#000" stroke-width="0.9" />
<text x="267.6" y="337.27" text-anchor="end">10</text>
<line x1="270" y1="316.5" x2="271.5" y2="316.5" stroke="#000" stroke-width="0.9" />
<text x="267.6" y="318.77" text-anchor="end">20</text>
<line x1="270" y1="298" x2="271.5" y2="298" stroke="#000" stroke-width="0.9" />
<text x="267.6" y="300.27" text-anchor="end">30</text>
<line x1="270" y1="279.5" x2="271.5" y2="279.5" stroke="#000" stroke-width="0.9" />
<text x="267.6" y="281.77" text-anchor="end">40</text>
<line x1="271" y1="353.5" x2="356.5" y2="353.5" stroke="#000" stroke-width="1" />
<line x1="271.25" y1="353.5" x2="271.25" y2="355.5" stroke="#000" stroke-width="0.9" />
<text x="271.25" y="363" text-anchor="middle">0</text>
<line x1="292.56" y1="353.5" x2="292.56" y2="355.5" stroke="#000" stroke-width="0.9" />
<text x="292.56" y="363" text-anchor="middle">30</text>
<line x1="313.88" y1="353.5" x2="313.88" y2="355.5" stroke="#000" stroke-width="0.9" />
<text x="313.88" y="363" text-anchor="middle">60</text>
<line x1="335.19" y1="353.5" x2="335.19" y2="355.5" stroke="#000" stroke-width="0.9" />
<text x="335.19" y="363" text-anchor="middle">90</text>
<line x1="356.5" y1="353.5" x2="356.5" y2="355.5" stroke="#000" stroke-width="0.9" />
<text x="356.5" y="363" text-anchor="middle">120</text>
<line x1="281.91" y1="353.5" x2="281.91" y2="354.7" stroke="#000" stroke-width="0.9" />
<line x1="303.22" y1="353.5" x2="303.22" y2="354.7" stroke="#000" stroke-width="0.9" />
<line x1="324.53" y1="353.5" x2="324.53" y2="354.7" stroke="#000" stroke-width="0.9" />
<line x1="345.84" y1="353.5" x2="345.84" y2="354.7" stroke="#000" stroke-width="0.9" />
<text x="319" y="372" text-anchor="middle">Time (min)</text>
<text transform="translate(250 318) rotate(-90)" text-anchor="middle" font-size="8.3" y="1.99">Blood glucose (mmol/L)</text>
<polyline points="271.25,346.1 281.91,326.86 292.56,326.86 313.88,331.86 335.19,337.31 356.5,341.85" fill="none" stroke="#000" stroke-width="1.3" stroke-dasharray="2.6,1.6" stroke-linejoin="round"/>
<line x1="281.91" y1="329.63" x2="281.91" y2="324.08" stroke="#000" stroke-width="0.85" />
<line x1="280.31" y1="324.08" x2="283.51" y2="324.08" stroke="#000" stroke-width="0.85" />
<line x1="280.31" y1="329.63" x2="283.51" y2="329.63" stroke="#000" stroke-width="0.85" />
<line x1="292.56" y1="329.63" x2="292.56" y2="324.08" stroke="#000" stroke-width="0.85" />
<line x1="290.96" y1="324.08" x2="294.16" y2="324.08" stroke="#000" stroke-width="0.85" />
<line x1="290.96" y1="329.63" x2="294.16" y2="329.63" stroke="#000" stroke-width="0.85" />
<line x1="313.88" y1="332.97" x2="313.88" y2="330.75" stroke="#000" stroke-width="0.85" />
<line x1="312.27" y1="330.75" x2="315.48" y2="330.75" stroke="#000" stroke-width="0.85" />
<line x1="312.27" y1="332.97" x2="315.48" y2="332.97" stroke="#000" stroke-width="0.85" />
<line x1="335.19" y1="338.24" x2="335.19" y2="336.39" stroke="#000" stroke-width="0.85" />
<line x1="333.59" y1="336.39" x2="336.79" y2="336.39" stroke="#000" stroke-width="0.85" />
<line x1="333.59" y1="338.24" x2="336.79" y2="338.24" stroke="#000" stroke-width="0.85" />
<polygon points="271.25,344 273.35,347.78 269.15,347.78" fill="#000" stroke="#000" stroke-width="0.6"/>
<polygon points="281.91,324.76 284.01,328.54 279.81,328.54" fill="#000" stroke="#000" stroke-width="0.6"/>
<polygon points="292.56,324.76 294.66,328.54 290.46,328.54" fill="#000" stroke="#000" stroke-width="0.6"/>
<polygon points="313.88,329.75 315.98,333.54 311.77,333.54" fill="#000" stroke="#000" stroke-width="0.6"/>
<polygon points="335.19,335.21 337.29,338.99 333.09,338.99" fill="#000" stroke="#000" stroke-width="0.6"/>
<polygon points="356.5,339.75 358.6,343.53 354.4,343.53" fill="#000" stroke="#000" stroke-width="0.6"/>
<polyline points="271.25,342.77 281.91,317.8 292.56,317.43 313.88,323.53 335.19,331.12 356.5,336.85" fill="none" stroke="#000" stroke-width="1" stroke-linejoin="round"/>
<line x1="281.91" y1="321.5" x2="281.91" y2="314.1" stroke="#000" stroke-width="0.85" />
<line x1="280.31" y1="314.1" x2="283.51" y2="314.1" stroke="#000" stroke-width="0.85" />
<line x1="280.31" y1="321.5" x2="283.51" y2="321.5" stroke="#000" stroke-width="0.85" />
<line x1="292.56" y1="322.05" x2="292.56" y2="312.8" stroke="#000" stroke-width="0.85" />
<line x1="290.96" y1="312.8" x2="294.16" y2="312.8" stroke="#000" stroke-width="0.85" />
<line x1="290.96" y1="322.05" x2="294.16" y2="322.05" stroke="#000" stroke-width="0.85" />
<line x1="313.88" y1="327.23" x2="313.88" y2="319.83" stroke="#000" stroke-width="0.85" />
<line x1="312.27" y1="319.83" x2="315.48" y2="319.83" stroke="#000" stroke-width="0.85" />
<line x1="312.27" y1="327.23" x2="315.48" y2="327.23" stroke="#000" stroke-width="0.85" />
<line x1="335.19" y1="332.04" x2="335.19" y2="330.19" stroke="#000" stroke-width="0.85" />
<line x1="333.59" y1="330.19" x2="336.79" y2="330.19" stroke="#000" stroke-width="0.85" />
<line x1="333.59" y1="332.04" x2="336.79" y2="332.04" stroke="#000" stroke-width="0.85" />
<line x1="356.5" y1="337.77" x2="356.5" y2="335.93" stroke="#000" stroke-width="0.85" />
<line x1="354.9" y1="335.93" x2="358.1" y2="335.93" stroke="#000" stroke-width="0.85" />
<line x1="354.9" y1="337.77" x2="358.1" y2="337.77" stroke="#000" stroke-width="0.85" />
<circle cx="271.25" cy="342.77" r="1.75" fill="#fff" stroke="#000" stroke-width="0.95"/>
<circle cx="281.91" cy="317.8" r="1.75" fill="#fff" stroke="#000" stroke-width="0.95"/>
<circle cx="292.56" cy="317.43" r="1.75" fill="#fff" stroke="#000" stroke-width="0.95"/>
<circle cx="313.88" cy="323.53" r="1.75" fill="#fff" stroke="#000" stroke-width="0.95"/>
<circle cx="335.19" cy="331.12" r="1.75" fill="#fff" stroke="#000" stroke-width="0.95"/>
<circle cx="356.5" cy="336.85" r="1.75" fill="#fff" stroke="#000" stroke-width="0.95"/>
<polyline points="271.25,336.85 281.91,312.43 292.56,307.44 313.88,319.46 335.19,322.79 356.5,328.52" fill="none" stroke="#ee1c25" stroke-width="1.3" stroke-dasharray="2.6,1.6" stroke-linejoin="round"/>
<line x1="281.91" y1="316.13" x2="281.91" y2="308.73" stroke="#ee1c25" stroke-width="0.85" />
<line x1="280.31" y1="308.73" x2="283.51" y2="308.73" stroke="#ee1c25" stroke-width="0.85" />
<line x1="280.31" y1="316.13" x2="283.51" y2="316.13" stroke="#ee1c25" stroke-width="0.85" />
<line x1="292.56" y1="311.13" x2="292.56" y2="303.74" stroke="#ee1c25" stroke-width="0.85" />
<line x1="290.96" y1="303.74" x2="294.16" y2="303.74" stroke="#ee1c25" stroke-width="0.85" />
<line x1="290.96" y1="311.13" x2="294.16" y2="311.13" stroke="#ee1c25" stroke-width="0.85" />
<line x1="313.88" y1="323.16" x2="313.88" y2="315.76" stroke="#ee1c25" stroke-width="0.85" />
<line x1="312.27" y1="315.76" x2="315.48" y2="315.76" stroke="#ee1c25" stroke-width="0.85" />
<line x1="312.27" y1="323.16" x2="315.48" y2="323.16" stroke="#ee1c25" stroke-width="0.85" />
<line x1="335.19" y1="328.34" x2="335.19" y2="317.24" stroke="#ee1c25" stroke-width="0.85" />
<line x1="333.59" y1="317.24" x2="336.79" y2="317.24" stroke="#ee1c25" stroke-width="0.85" />
<line x1="333.59" y1="328.34" x2="336.79" y2="328.34" stroke="#ee1c25" stroke-width="0.85" />
<line x1="356.5" y1="332.23" x2="356.5" y2="324.82" stroke="#ee1c25" stroke-width="0.85" />
<line x1="354.9" y1="324.82" x2="358.1" y2="324.82" stroke="#ee1c25" stroke-width="0.85" />
<line x1="354.9" y1="332.23" x2="358.1" y2="332.23" stroke="#ee1c25" stroke-width="0.85" />
<polygon points="271.25,334.75 273.35,338.53 269.15,338.53" fill="#ee1c25" stroke="#ee1c25" stroke-width="0.6"/>
<polygon points="281.91,310.33 284.01,314.11 279.81,314.11" fill="#ee1c25" stroke="#ee1c25" stroke-width="0.6"/>
<polygon points="292.56,305.33 294.66,309.12 290.46,309.12" fill="#ee1c25" stroke="#ee1c25" stroke-width="0.6"/>
<polygon points="313.88,317.36 315.98,321.14 311.77,321.14" fill="#ee1c25" stroke="#ee1c25" stroke-width="0.6"/>
<polygon points="335.19,320.69 337.29,324.47 333.09,324.47" fill="#ee1c25" stroke="#ee1c25" stroke-width="0.6"/>
<polygon points="356.5,326.42 358.6,330.2 354.4,330.2" fill="#ee1c25" stroke="#ee1c25" stroke-width="0.6"/>
<polyline points="271.25,335.37 281.91,306.14 292.56,301.88 313.88,303.74 335.19,306.88 356.5,315.39" fill="none" stroke="#ee1c25" stroke-width="1" stroke-linejoin="round"/>
<line x1="271.25" y1="337.22" x2="271.25" y2="333.52" stroke="#ee1c25" stroke-width="0.85" />
<line x1="269.65" y1="333.52" x2="272.85" y2="333.52" stroke="#ee1c25" stroke-width="0.85" />
<line x1="269.65" y1="337.22" x2="272.85" y2="337.22" stroke="#ee1c25" stroke-width="0.85" />
<line x1="281.91" y1="309.84" x2="281.91" y2="302.44" stroke="#ee1c25" stroke-width="0.85" />
<line x1="280.31" y1="302.44" x2="283.51" y2="302.44" stroke="#ee1c25" stroke-width="0.85" />
<line x1="280.31" y1="309.84" x2="283.51" y2="309.84" stroke="#ee1c25" stroke-width="0.85" />
<line x1="292.56" y1="305.58" x2="292.56" y2="298.19" stroke="#ee1c25" stroke-width="0.85" />
<line x1="290.96" y1="298.19" x2="294.16" y2="298.19" stroke="#ee1c25" stroke-width="0.85" />
<line x1="290.96" y1="305.58" x2="294.16" y2="305.58" stroke="#ee1c25" stroke-width="0.85" />
<line x1="313.88" y1="309.29" x2="313.88" y2="298.19" stroke="#ee1c25" stroke-width="0.85" />
<line x1="312.27" y1="298.19" x2="315.48" y2="298.19" stroke="#ee1c25" stroke-width="0.85" />
<line x1="312.27" y1="309.29" x2="315.48" y2="309.29" stroke="#ee1c25" stroke-width="0.85" />
<line x1="335.19" y1="311.5" x2="335.19" y2="302.25" stroke="#ee1c25" stroke-width="0.85" />
<line x1="333.59" y1="302.25" x2="336.79" y2="302.25" stroke="#ee1c25" stroke-width="0.85" />
<line x1="333.59" y1="311.5" x2="336.79" y2="311.5" stroke="#ee1c25" stroke-width="0.85" />
<line x1="356.5" y1="319.09" x2="356.5" y2="311.69" stroke="#ee1c25" stroke-width="0.85" />
<line x1="354.9" y1="311.69" x2="358.1" y2="311.69" stroke="#ee1c25" stroke-width="0.85" />
<line x1="354.9" y1="319.09" x2="358.1" y2="319.09" stroke="#ee1c25" stroke-width="0.85" />
<circle cx="271.25" cy="335.37" r="1.75" fill="#fff" stroke="#ee1c25" stroke-width="0.95"/>
<circle cx="281.91" cy="306.14" r="1.75" fill="#fff" stroke="#ee1c25" stroke-width="0.95"/>
<circle cx="292.56" cy="301.88" r="1.75" fill="#fff" stroke="#ee1c25" stroke-width="0.95"/>
<circle cx="313.88" cy="303.74" r="1.75" fill="#fff" stroke="#ee1c25" stroke-width="0.95"/>
<circle cx="335.19" cy="306.88" r="1.75" fill="#fff" stroke="#ee1c25" stroke-width="0.95"/>
<circle cx="356.5" cy="315.39" r="1.75" fill="#fff" stroke="#ee1c25" stroke-width="0.95"/>
<polyline points="360.7,316.5 362.8,316.5 362.8,336.5 360.7,336.5" fill="none" stroke="#333" stroke-width="0.9"/>
<polyline points="360.2,330 368.4,330 368.4,342.3 360.2,342.3" fill="none" stroke="#333" stroke-width="0.9"/>
<text transform="translate(367.7 323.7) rotate(90)" y="5.45" font-size="10" font-weight="bold" fill="#333" text-anchor="middle" letter-spacing="-0.2">**</text>
<text transform="translate(373.2 337.2) rotate(90)" y="5.45" font-size="10" font-weight="bold" fill="#333" text-anchor="middle" letter-spacing="-0.2">***</text>
<line x1="315.8" y1="244.3" x2="324.3" y2="244.3" stroke="#ee1c25" stroke-width="1" stroke-dasharray="2,1.3" />
<polygon points="320.05,242.5 321.85,245.74 318.25,245.74" fill="#ee1c25" stroke="#ee1c25" stroke-width="0.6"/>
<text x="328.2" y="247.1">WT HFD 5W</text>
<line x1="315.8" y1="254" x2="324.3" y2="254" stroke="#000" stroke-width="1" stroke-dasharray="2,1.3" />
<polygon points="320.05,252.2 321.85,255.44 318.25,255.44" fill="#000" stroke="#000" stroke-width="0.6"/>
<text x="328.2" y="256.8">TKT<tspan font-size="5.02" dy="-2.59">AKO</tspan><tspan dy="2.59" dx="1.1">HFD 5W</tspan></text>
<line x1="315.8" y1="263.4" x2="324.3" y2="263.4" stroke="#ee1c25" stroke-width="1" />
<circle cx="320.05" cy="263.4" r="1.5" fill="#fff" stroke="#ee1c25" stroke-width="0.95"/>
<text x="328.2" y="266.2">WT HFD 10W</text>
<line x1="315.8" y1="272.6" x2="324.3" y2="272.6" stroke="#000" stroke-width="1" />
<circle cx="320.05" cy="272.6" r="1.5" fill="#fff" stroke="#000" stroke-width="0.95"/>
<text x="328.2" y="275.4">TKT<tspan font-size="5.02" dy="-2.59">AKO</tspan><tspan dy="2.59" dx="1.1">HFD 10W</tspan></text>
<rect x="429.9" y="302.18" width="13.8" height="50.32" fill="#fff" stroke="#ee1c25" stroke-width="1.15" />
<line x1="436.8" y1="302.18" x2="436.8" y2="297.89" stroke="#ee1c25" stroke-width="0.9" />
<line x1="434.6" y1="297.89" x2="439" y2="297.89" stroke="#ee1c25" stroke-width="0.9" />
<circle cx="436.8" cy="290.76" r="1.45" fill="none" stroke="#ee1c25" stroke-width="0.85"/>
<circle cx="434.2" cy="294.19" r="1.45" fill="none" stroke="#ee1c25" stroke-width="0.85"/>
<circle cx="439.4" cy="297.62" r="1.45" fill="none" stroke="#ee1c25" stroke-width="0.85"/>
<circle cx="435.5" cy="304.48" r="1.45" fill="none" stroke="#ee1c25" stroke-width="0.85"/>
<circle cx="438.1" cy="306.19" r="1.45" fill="none" stroke="#ee1c25" stroke-width="0.85"/>
<circle cx="433.4" cy="318.2" r="1.45" fill="none" stroke="#ee1c25" stroke-width="0.85"/>
<rect x="448.5" y="323.34" width="13.4" height="29.16" fill="#fff" stroke="#000" stroke-width="1.15" />
<line x1="455.2" y1="323.34" x2="455.2" y2="321.29" stroke="#000" stroke-width="0.9" />
<line x1="453" y1="321.29" x2="457.4" y2="321.29" stroke="#000" stroke-width="0.9" />
<circle cx="455.2" cy="320.26" r="1.45" fill="none" stroke="#000" stroke-width="0.85"/>
<circle cx="452.6" cy="320.77" r="1.45" fill="none" stroke="#000" stroke-width="0.85"/>
<circle cx="457.8" cy="323.34" r="1.45" fill="none" stroke="#000" stroke-width="0.85"/>
<circle cx="453.9" cy="325.06" r="1.45" fill="none" stroke="#000" stroke-width="0.85"/>
<circle cx="456.5" cy="332.78" r="1.45" fill="none" stroke="#000" stroke-width="0.85"/>
<rect x="467.4" y="315.34" width="12.6" height="37.16" fill="url(#hr)" stroke="#ee1c25" stroke-width="1.15" />
<line x1="473.7" y1="315.34" x2="473.7" y2="312.76" stroke="#ee1c25" stroke-width="0.9" />
<line x1="471.5" y1="312.76" x2="475.9" y2="312.76" stroke="#ee1c25" stroke-width="0.9" />
<circle cx="473.7" cy="296.76" r="1.45" fill="none" stroke="#ee1c25" stroke-width="0.85"/>
<circle cx="471.1" cy="311.34" r="1.45" fill="none" stroke="#ee1c25" stroke-width="0.85"/>
<circle cx="476.3" cy="312.2" r="1.45" fill="none" stroke="#ee1c25" stroke-width="0.85"/>
<circle cx="472.4" cy="314.77" r="1.45" fill="none" stroke="#ee1c25" stroke-width="0.85"/>
<circle cx="475" cy="318.2" r="1.45" fill="none" stroke="#ee1c25" stroke-width="0.85"/>
<circle cx="470.3" cy="319.91" r="1.45" fill="none" stroke="#ee1c25" stroke-width="0.85"/>
<circle cx="477.1" cy="316.49" r="1.45" fill="none" stroke="#ee1c25" stroke-width="0.85"/>
<rect x="486" y="330.6" width="12.7" height="21.9" fill="url(#hk)" stroke="#000" stroke-width="1.15" />
<line x1="492.35" y1="330.6" x2="492.35" y2="328.88" stroke="#000" stroke-width="0.9" />
<line x1="490.15" y1="328.88" x2="494.55" y2="328.88" stroke="#000" stroke-width="0.9" />
<circle cx="492.35" cy="325.06" r="1.45" fill="none" stroke="#000" stroke-width="0.85"/>
<circle cx="489.75" cy="325.4" r="1.45" fill="none" stroke="#000" stroke-width="0.85"/>
<circle cx="494.95" cy="328.49" r="1.45" fill="none" stroke="#000" stroke-width="0.85"/>
<circle cx="491.05" cy="330.2" r="1.45" fill="none" stroke="#000" stroke-width="0.85"/>
<circle cx="493.65" cy="331.92" r="1.45" fill="none" stroke="#000" stroke-width="0.85"/>
<circle cx="488.95" cy="335.35" r="1.45" fill="none" stroke="#000" stroke-width="0.85"/>
<circle cx="495.75" cy="331.06" r="1.45" fill="none" stroke="#000" stroke-width="0.85"/>
<line x1="427.5" y1="283.9" x2="427.5" y2="352.5" stroke="#000" stroke-width="1" />
<line x1="426" y1="352.5" x2="427.5" y2="352.5" stroke="#000" stroke-width="0.9" />
<text x="425" y="354.77" text-anchor="end">0</text>
<line x1="426" y1="335.35" x2="427.5" y2="335.35" stroke="#000" stroke-width="0.9" />
<text x="425" y="337.62" text-anchor="end">1000</text>
<line x1="426" y1="318.2" x2="427.5" y2="318.2" stroke="#000" stroke-width="0.9" />
<text x="425" y="320.47" text-anchor="end">2000</text>
<line x1="426" y1="301.05" x2="427.5" y2="301.05" stroke="#000" stroke-width="0.9" />
<text x="425" y="303.32" text-anchor="end">3000</text>
<line x1="426" y1="283.9" x2="427.5" y2="283.9" stroke="#000" stroke-width="0.9" />
<text x="425" y="286.17" text-anchor="end">4000</text>
<line x1="427" y1="352.5" x2="499.7" y2="352.5" stroke="#000" stroke-width="1" />
<line x1="434.1" y1="286.5" x2="461" y2="286.5" stroke="#000" stroke-width="0.9" />
<text x="447.55" y="287.55" font-size="10" text-anchor="middle" font-weight="bold" fill="#333" letter-spacing="-0.2">**</text>
<line x1="472.2" y1="291.5" x2="499.1" y2="291.5" stroke="#000" stroke-width="0.9" />
<text x="485.65" y="292.55" font-size="10" text-anchor="middle" font-weight="bold" fill="#333" letter-spacing="-0.2">***</text>
<text transform="translate(400.5 317.8) rotate(-90)" text-anchor="middle" font-size="8.15" y="1.96">GTT AUC</text>
<rect x="434.5" y="242.4" width="8.2" height="3.8" fill="url(#hr)" stroke="#ee1c25" stroke-width="1" />
<text x="444.3" y="247">WT HFD 5W</text>
<rect x="434.5" y="251.1" width="8.2" height="3.8" fill="url(#hk)" stroke="#000" stroke-width="1" />
<text x="444.3" y="255.7">TKT<tspan font-size="5.02" dy="-2.59">AKO</tspan><tspan dy="2.59" dx="1.1">HFD 5W</tspan></text>
<rect x="434.5" y="261.7" width="8.2" height="3.8" fill="#fff" stroke="#ee1c25" stroke-width="1" />
<text x="444.3" y="266.3">WT HFD 10W</text>
<rect x="434.5" y="270.7" width="8.2" height="3.8" fill="#fff" stroke="#000" stroke-width="1" />
<text x="444.3" y="275.3">TKT<tspan font-size="5.02" dy="-2.59">AKO</tspan><tspan dy="2.59" dx="1.1">HFD 10W</tspan></text>
<text x="3.9" y="379.1" font-size="15.3" font-family="Liberation Sans, Arial, sans-serif" font-weight="bold">M</text>
<line x1="31.5" y1="396.9" x2="31.5" y2="466.5" stroke="#000" stroke-width="1" />
<line x1="30" y1="466.5" x2="31.5" y2="466.5" stroke="#000" stroke-width="0.9" />
<text x="27.6" y="468.77" text-anchor="end">0</text>
<line x1="30" y1="443.3" x2="31.5" y2="443.3" stroke="#000" stroke-width="0.9" />
<text x="27.6" y="445.57" text-anchor="end">50</text>
<line x1="30" y1="420.1" x2="31.5" y2="420.1" stroke="#000" stroke-width="0.9" />
<text x="27.6" y="422.37" text-anchor="end">100</text>
<line x1="30" y1="396.9" x2="31.5" y2="396.9" stroke="#000" stroke-width="0.9" />
<text x="27.6" y="399.17" text-anchor="end">150</text>
<line x1="31" y1="466.5" x2="110.8" y2="466.5" stroke="#000" stroke-width="1" />
<line x1="31.15" y1="466.5" x2="31.15" y2="468.5" stroke="#000" stroke-width="0.9" />
<text x="31.15" y="475.4" text-anchor="middle">0</text>
<line x1="57.7" y1="466.5" x2="57.7" y2="468.5" stroke="#000" stroke-width="0.9" />
<text x="57.7" y="475.4" text-anchor="middle">30</text>
<line x1="84.25" y1="466.5" x2="84.25" y2="468.5" stroke="#000" stroke-width="0.9" />
<text x="84.25" y="475.4" text-anchor="middle">60</text>
<line x1="110.8" y1="466.5" x2="110.8" y2="468.5" stroke="#000" stroke-width="0.9" />
<text x="110.8" y="475.4" text-anchor="middle">90</text>
<line x1="44.42" y1="466.5" x2="44.42" y2="467.7" stroke="#000" stroke-width="0.9" />
<line x1="70.97" y1="466.5" x2="70.97" y2="467.7" stroke="#000" stroke-width="0.9" />
<line x1="97.53" y1="466.5" x2="97.53" y2="467.7" stroke="#000" stroke-width="0.9" />
<text x="72.3" y="485.4" text-anchor="middle">Time (min)</text>
<text transform="translate(11.3 433.5) rotate(-90)" text-anchor="middle" font-size="8.3" y="1.99">Blood glucose (% of base)</text>
<polyline points="31.15,420.1 44.42,441.91 57.7,450.68 84.25,449.24 110.8,446.22" fill="none" stroke="#000" stroke-width="1" stroke-linejoin="round"/>
<line x1="44.42" y1="442.84" x2="44.42" y2="440.98" stroke="#000" stroke-width="0.85" />
<line x1="42.82" y1="440.98" x2="46.02" y2="440.98" stroke="#000" stroke-width="0.85" />
<line x1="42.82" y1="442.84" x2="46.02" y2="442.84" stroke="#000" stroke-width="0.85" />
<line x1="57.7" y1="451.61" x2="57.7" y2="449.75" stroke="#000" stroke-width="0.85" />
<line x1="56.1" y1="449.75" x2="59.3" y2="449.75" stroke="#000" stroke-width="0.85" />
<line x1="56.1" y1="451.61" x2="59.3" y2="451.61" stroke="#000" stroke-width="0.85" />
<line x1="84.25" y1="450.17" x2="84.25" y2="448.31" stroke="#000" stroke-width="0.85" />
<line x1="82.65" y1="448.31" x2="85.85" y2="448.31" stroke="#000" stroke-width="0.85" />
<line x1="82.65" y1="450.17" x2="85.85" y2="450.17" stroke="#000" stroke-width="0.85" />
<line x1="110.8" y1="446.69" x2="110.8" y2="445.76" stroke="#000" stroke-width="0.85" />
<line x1="109.2" y1="445.76" x2="112.4" y2="445.76" stroke="#000" stroke-width="0.85" />
<line x1="109.2" y1="446.69" x2="112.4" y2="446.69" stroke="#000" stroke-width="0.85" />
<circle cx="31.15" cy="420.1" r="1.75" fill="#fff" stroke="#000" stroke-width="0.95"/>
<circle cx="44.42" cy="441.91" r="1.75" fill="#fff" stroke="#000" stroke-width="0.95"/>
<circle cx="57.7" cy="450.68" r="1.75" fill="#fff" stroke="#000" stroke-width="0.95"/>
<circle cx="84.25" cy="449.24" r="1.75" fill="#fff" stroke="#000" stroke-width="0.95"/>
<circle cx="110.8" cy="446.22" r="1.75" fill="#fff" stroke="#000" stroke-width="0.95"/>
<polyline points="31.15,420.1 44.42,440.61 57.7,447.75 84.25,445.43 110.8,438.1" fill="none" stroke="#ee1c25" stroke-width="1" stroke-linejoin="round"/>
<line x1="44.42" y1="442" x2="44.42" y2="439.22" stroke="#ee1c25" stroke-width="0.85" />
<line x1="42.82" y1="439.22" x2="46.02" y2="439.22" stroke="#ee1c25" stroke-width="0.85" />
<line x1="42.82" y1="442" x2="46.02" y2="442" stroke="#ee1c25" stroke-width="0.85" />
<line x1="57.7" y1="449.61" x2="57.7" y2="445.9" stroke="#ee1c25" stroke-width="0.85" />
<line x1="56.1" y1="445.9" x2="59.3" y2="445.9" stroke="#ee1c25" stroke-width="0.85" />
<line x1="56.1" y1="449.61" x2="59.3" y2="449.61" stroke="#ee1c25" stroke-width="0.85" />
<line x1="84.25" y1="447.29" x2="84.25" y2="443.58" stroke="#ee1c25" stroke-width="0.85" />
<line x1="82.65" y1="443.58" x2="85.85" y2="443.58" stroke="#ee1c25" stroke-width="0.85" />
<line x1="82.65" y1="447.29" x2="85.85" y2="447.29" stroke="#ee1c25" stroke-width="0.85" />
<line x1="110.8" y1="439.96" x2="110.8" y2="436.25" stroke="#ee1c25" stroke-width="0.85" />
<line x1="109.2" y1="436.25" x2="112.4" y2="436.25" stroke="#ee1c25" stroke-width="0.85" />
<line x1="109.2" y1="439.96" x2="112.4" y2="439.96" stroke="#ee1c25" stroke-width="0.85" />
<circle cx="31.15" cy="420.1" r="1.75" fill="#fff" stroke="#ee1c25" stroke-width="0.95"/>
<circle cx="44.42" cy="440.61" r="1.75" fill="#fff" stroke="#ee1c25" stroke-width="0.95"/>
<circle cx="57.7" cy="447.75" r="1.75" fill="#fff" stroke="#ee1c25" stroke-width="0.95"/>
<circle cx="84.25" cy="445.43" r="1.75" fill="#fff" stroke="#ee1c25" stroke-width="0.95"/>
<circle cx="110.8" cy="438.1" r="1.75" fill="#fff" stroke="#ee1c25" stroke-width="0.95"/>
<text x="110.8" y="436.65" font-size="10" text-anchor="middle" font-weight="bold" fill="#333" letter-spacing="-0.2">*</text>
<rect x="176.2" y="425.08" width="14.6" height="40.42" fill="#fff" stroke="#ee1c25" stroke-width="1.15" />
<line x1="183.5" y1="425.08" x2="183.5" y2="422.09" stroke="#ee1c25" stroke-width="0.9" />
<line x1="181.3" y1="422.09" x2="185.7" y2="422.09" stroke="#ee1c25" stroke-width="0.9" />
<circle cx="183.5" cy="411.9" r="1.45" fill="none" stroke="#ee1c25" stroke-width="0.85"/>
<circle cx="180.9" cy="420.12" r="1.45" fill="none" stroke="#ee1c25" stroke-width="0.85"/>
<circle cx="186.1" cy="424.83" r="1.45" fill="none" stroke="#ee1c25" stroke-width="0.85"/>
<circle cx="182.2" cy="426.11" r="1.45" fill="none" stroke="#ee1c25" stroke-width="0.85"/>
<circle cx="184.8" cy="429.97" r="1.45" fill="none" stroke="#ee1c25" stroke-width="0.85"/>
<circle cx="180.1" cy="432.96" r="1.45" fill="none" stroke="#ee1c25" stroke-width="0.85"/>
<rect x="196.2" y="430.5" width="14.3" height="35" fill="#fff" stroke="#000" stroke-width="1.15" />
<line x1="203.35" y1="430.5" x2="203.35" y2="428.36" stroke="#000" stroke-width="0.9" />
<line x1="201.15" y1="428.36" x2="205.55" y2="428.36" stroke="#000" stroke-width="0.9" />
<circle cx="203.35" cy="423.12" r="1.45" fill="none" stroke="#000" stroke-width="0.85"/>
<circle cx="200.75" cy="426.11" r="1.45" fill="none" stroke="#000" stroke-width="0.85"/>
<circle cx="205.95" cy="429.54" r="1.45" fill="none" stroke="#000" stroke-width="0.85"/>
<circle cx="202.05" cy="433.82" r="1.45" fill="none" stroke="#000" stroke-width="0.85"/>
<circle cx="204.65" cy="433.39" r="1.45" fill="none" stroke="#000" stroke-width="0.85"/>
<line x1="172.5" y1="397" x2="172.5" y2="465.5" stroke="#000" stroke-width="1" />
<line x1="171" y1="465.5" x2="172.5" y2="465.5" stroke="#000" stroke-width="0.9" />
<text x="170" y="467.77" text-anchor="end">0</text>
<line x1="171" y1="448.38" x2="172.5" y2="448.38" stroke="#000" stroke-width="0.9" />
<text x="170" y="450.64" text-anchor="end">2000</text>
<line x1="171" y1="431.25" x2="172.5" y2="431.25" stroke="#000" stroke-width="0.9" />
<text x="170" y="433.52" text-anchor="end">4000</text>
<line x1="171" y1="414.12" x2="172.5" y2="414.12" stroke="#000" stroke-width="0.9" />
<text x="170" y="416.39" text-anchor="end">6000</text>
<line x1="171" y1="397" x2="172.5" y2="397" stroke="#000" stroke-width="0.9" />
<text x="170" y="399.27" text-anchor="end">8000</text>
<line x1="172" y1="465.5" x2="213" y2="465.5" stroke="#000" stroke-width="1" />
<line x1="182.3" y1="408.5" x2="208.8" y2="408.5" stroke="#000" stroke-width="0.9" />
<text x="195.55" y="405.9" text-anchor="middle">n.s.</text>
<text transform="translate(147.2 432.7) rotate(-90)" text-anchor="middle" font-size="8.15" y="1.96">ITT AUC</text>
<text x="236.8" y="378.6" font-size="15.3" font-family="Liberation Sans, Arial, sans-serif" font-weight="bold">N</text>
<line x1="271.5" y1="392.4" x2="271.5" y2="466.5" stroke="#000" stroke-width="1" />
<line x1="270" y1="466.5" x2="271.5" y2="466.5" stroke="#000" stroke-width="0.9" />
<text x="267.6" y="468.77" text-anchor="end">0</text>
<line x1="270" y1="441.8" x2="271.5" y2="441.8" stroke="#000" stroke-width="0.9" />
<text x="267.6" y="444.07" text-anchor="end">50</text>
<line x1="270" y1="417.1" x2="271.5" y2="417.1" stroke="#000" stroke-width="0.9" />
<text x="267.6" y="419.37" text-anchor="end">100</text>
<line x1="270" y1="392.4" x2="271.5" y2="392.4" stroke="#000" stroke-width="0.9" />
<text x="267.6" y="394.67" text-anchor="end">150</text>
<line x1="271" y1="466.5" x2="358.1" y2="466.5" stroke="#000" stroke-width="1" />
<line x1="271.5" y1="466.5" x2="271.5" y2="468.5" stroke="#000" stroke-width="0.9" />
<text x="271.5" y="476.2" text-anchor="middle">0</text>
<line x1="300.37" y1="466.5" x2="300.37" y2="468.5" stroke="#000" stroke-width="0.9" />
<text x="300.37" y="476.2" text-anchor="middle">30</text>
<line x1="329.23" y1="466.5" x2="329.23" y2="468.5" stroke="#000" stroke-width="0.9" />
<text x="329.23" y="476.2" text-anchor="middle">60</text>
<line x1="358.1" y1="466.5" x2="358.1" y2="468.5" stroke="#000" stroke-width="0.9" />
<text x="358.1" y="476.2" text-anchor="middle">90</text>
<line x1="285.93" y1="466.5" x2="285.93" y2="467.7" stroke="#000" stroke-width="0.9" />
<line x1="314.8" y1="466.5" x2="314.8" y2="467.7" stroke="#000" stroke-width="0.9" />
<line x1="343.67" y1="466.5" x2="343.67" y2="467.7" stroke="#000" stroke-width="0.9" />
<text x="318.8" y="486" text-anchor="middle">Time (min)</text>
<text transform="translate(250.9 431.3) rotate(-90)" text-anchor="middle" font-size="8.3" y="1.99">Blood glucose (% of base)</text>
<polyline points="271.5,417.1 285.93,438.69 300.37,447.53 329.23,452.62 358.1,451.04" fill="none" stroke="#000" stroke-width="1.3" stroke-dasharray="2.6,1.6" stroke-linejoin="round"/>
<line x1="285.93" y1="440.17" x2="285.93" y2="437.21" stroke="#000" stroke-width="0.85" />
<line x1="284.33" y1="437.21" x2="287.53" y2="437.21" stroke="#000" stroke-width="0.85" />
<line x1="284.33" y1="440.17" x2="287.53" y2="440.17" stroke="#000" stroke-width="0.85" />
<line x1="300.37" y1="448.52" x2="300.37" y2="446.54" stroke="#000" stroke-width="0.85" />
<line x1="298.77" y1="446.54" x2="301.97" y2="446.54" stroke="#000" stroke-width="0.85" />
<line x1="298.77" y1="448.52" x2="301.97" y2="448.52" stroke="#000" stroke-width="0.85" />
<line x1="329.23" y1="453.61" x2="329.23" y2="451.63" stroke="#000" stroke-width="0.85" />
<line x1="327.63" y1="451.63" x2="330.83" y2="451.63" stroke="#000" stroke-width="0.85" />
<line x1="327.63" y1="453.61" x2="330.83" y2="453.61" stroke="#000" stroke-width="0.85" />
<line x1="358.1" y1="452.52" x2="358.1" y2="449.56" stroke="#000" stroke-width="0.85" />
<line x1="356.5" y1="449.56" x2="359.7" y2="449.56" stroke="#000" stroke-width="0.85" />
<line x1="356.5" y1="452.52" x2="359.7" y2="452.52" stroke="#000" stroke-width="0.85" />
<polygon points="271.5,415 273.6,418.78 269.4,418.78" fill="#000" stroke="#000" stroke-width="0.6"/>
<polygon points="285.93,436.59 288.03,440.37 283.83,440.37" fill="#000" stroke="#000" stroke-width="0.6"/>
<polygon points="300.37,445.43 302.47,449.21 298.27,449.21" fill="#000" stroke="#000" stroke-width="0.6"/>
<polygon points="329.23,450.52 331.33,454.3 327.13,454.3" fill="#000" stroke="#000" stroke-width="0.6"/>
<polygon points="358.1,448.94 360.2,452.72 356,452.72" fill="#000" stroke="#000" stroke-width="0.6"/>
<polyline points="271.5,417.1 285.93,436.37 300.37,442.89 329.23,450.54 358.1,447.53" fill="none" stroke="#000" stroke-width="1" stroke-linejoin="round"/>
<line x1="285.93" y1="437.85" x2="285.93" y2="434.88" stroke="#000" stroke-width="0.85" />
<line x1="284.33" y1="434.88" x2="287.53" y2="434.88" stroke="#000" stroke-width="0.85" />
<line x1="284.33" y1="437.85" x2="287.53" y2="437.85" stroke="#000" stroke-width="0.85" />
<line x1="300.37" y1="444.37" x2="300.37" y2="441.4" stroke="#000" stroke-width="0.85" />
<line x1="298.77" y1="441.4" x2="301.97" y2="441.4" stroke="#000" stroke-width="0.85" />
<line x1="298.77" y1="444.37" x2="301.97" y2="444.37" stroke="#000" stroke-width="0.85" />
<line x1="329.23" y1="451.53" x2="329.23" y2="449.56" stroke="#000" stroke-width="0.85" />
<line x1="327.63" y1="449.56" x2="330.83" y2="449.56" stroke="#000" stroke-width="0.85" />
<line x1="327.63" y1="451.53" x2="330.83" y2="451.53" stroke="#000" stroke-width="0.85" />
<line x1="358.1" y1="448.52" x2="358.1" y2="446.54" stroke="#000" stroke-width="0.85" />
<line x1="356.5" y1="446.54" x2="359.7" y2="446.54" stroke="#000" stroke-width="0.85" />
<line x1="356.5" y1="448.52" x2="359.7" y2="448.52" stroke="#000" stroke-width="0.85" />
<circle cx="271.5" cy="417.1" r="1.75" fill="#fff" stroke="#000" stroke-width="0.95"/>
<circle cx="285.93" cy="436.37" r="1.75" fill="#fff" stroke="#000" stroke-width="0.95"/>
<circle cx="300.37" cy="442.89" r="1.75" fill="#fff" stroke="#000" stroke-width="0.95"/>
<circle cx="329.23" cy="450.54" r="1.75" fill="#fff" stroke="#000" stroke-width="0.95"/>
<circle cx="358.1" cy="447.53" r="1.75" fill="#fff" stroke="#000" stroke-width="0.95"/>
<polyline points="271.5,417.1 285.93,439.38 300.37,443.43 329.23,441.01 358.1,434.09" fill="none" stroke="#ee1c25" stroke-width="1.3" stroke-dasharray="2.6,1.6" stroke-linejoin="round"/>
<line x1="285.93" y1="440.86" x2="285.93" y2="437.9" stroke="#ee1c25" stroke-width="0.85" />
<line x1="284.33" y1="437.9" x2="287.53" y2="437.9" stroke="#ee1c25" stroke-width="0.85" />
<line x1="284.33" y1="440.86" x2="287.53" y2="440.86" stroke="#ee1c25" stroke-width="0.85" />
<line x1="300.37" y1="444.42" x2="300.37" y2="442.44" stroke="#ee1c25" stroke-width="0.85" />
<line x1="298.77" y1="442.44" x2="301.97" y2="442.44" stroke="#ee1c25" stroke-width="0.85" />
<line x1="298.77" y1="444.42" x2="301.97" y2="444.42" stroke="#ee1c25" stroke-width="0.85" />
<line x1="329.23" y1="442.49" x2="329.23" y2="439.53" stroke="#ee1c25" stroke-width="0.85" />
<line x1="327.63" y1="439.53" x2="330.83" y2="439.53" stroke="#ee1c25" stroke-width="0.85" />
<line x1="327.63" y1="442.49" x2="330.83" y2="442.49" stroke="#ee1c25" stroke-width="0.85" />
<line x1="358.1" y1="436.56" x2="358.1" y2="431.62" stroke="#ee1c25" stroke-width="0.85" />
<line x1="356.5" y1="431.62" x2="359.7" y2="431.62" stroke="#ee1c25" stroke-width="0.85" />
<line x1="356.5" y1="436.56" x2="359.7" y2="436.56" stroke="#ee1c25" stroke-width="0.85" />
<polygon points="271.5,415 273.6,418.78 269.4,418.78" fill="#ee1c25" stroke="#ee1c25" stroke-width="0.6"/>
<polygon points="285.93,437.28 288.03,441.06 283.83,441.06" fill="#ee1c25" stroke="#ee1c25" stroke-width="0.6"/>
<polygon points="300.37,441.33 302.47,445.11 298.27,445.11" fill="#ee1c25" stroke="#ee1c25" stroke-width="0.6"/>
<polygon points="329.23,438.91 331.33,442.69 327.13,442.69" fill="#ee1c25" stroke="#ee1c25" stroke-width="0.6"/>
<polygon points="358.1,431.99 360.2,435.77 356,435.77" fill="#ee1c25" stroke="#ee1c25" stroke-width="0.6"/>
<polyline points="271.5,417.1 285.93,427.33 300.37,438.29 329.23,436.37 358.1,427.13" fill="none" stroke="#ee1c25" stroke-width="1" stroke-linejoin="round"/>
<line x1="285.93" y1="429.3" x2="285.93" y2="425.35" stroke="#ee1c25" stroke-width="0.85" />
<line x1="284.33" y1="425.35" x2="287.53" y2="425.35" stroke="#ee1c25" stroke-width="0.85" />
<line x1="284.33" y1="429.3" x2="287.53" y2="429.3" stroke="#ee1c25" stroke-width="0.85" />
<line x1="300.37" y1="439.77" x2="300.37" y2="436.81" stroke="#ee1c25" stroke-width="0.85" />
<line x1="298.77" y1="436.81" x2="301.97" y2="436.81" stroke="#ee1c25" stroke-width="0.85" />
<line x1="298.77" y1="439.77" x2="301.97" y2="439.77" stroke="#ee1c25" stroke-width="0.85" />
<line x1="329.23" y1="438.84" x2="329.23" y2="433.9" stroke="#ee1c25" stroke-width="0.85" />
<line x1="327.63" y1="433.9" x2="330.83" y2="433.9" stroke="#ee1c25" stroke-width="0.85" />
<line x1="327.63" y1="438.84" x2="330.83" y2="438.84" stroke="#ee1c25" stroke-width="0.85" />
<line x1="358.1" y1="428.61" x2="358.1" y2="425.65" stroke="#ee1c25" stroke-width="0.85" />
<line x1="356.5" y1="425.65" x2="359.7" y2="425.65" stroke="#ee1c25" stroke-width="0.85" />
<line x1="356.5" y1="428.61" x2="359.7" y2="428.61" stroke="#ee1c25" stroke-width="0.85" />
<circle cx="271.5" cy="417.1" r="1.75" fill="#fff" stroke="#ee1c25" stroke-width="0.95"/>
<circle cx="285.93" cy="427.33" r="1.75" fill="#fff" stroke="#ee1c25" stroke-width="0.95"/>
<circle cx="300.37" cy="438.29" r="1.75" fill="#fff" stroke="#ee1c25" stroke-width="0.95"/>
<circle cx="329.23" cy="436.37" r="1.75" fill="#fff" stroke="#ee1c25" stroke-width="0.95"/>
<circle cx="358.1" cy="427.13" r="1.75" fill="#fff" stroke="#ee1c25" stroke-width="0.95"/>
<polyline points="360.8,425.8 366.5,425.8 366.5,447.7 360.8,447.7" fill="none" stroke="#333" stroke-width="0.9"/>
<polyline points="360.2,433.5 362.7,433.5 362.7,450.5 360.2,450.5" fill="none" stroke="#333" stroke-width="0.9"/>
<text transform="translate(370.6 436.7) rotate(90)" y="5.45" font-size="10" font-weight="bold" fill="#333" text-anchor="middle" letter-spacing="-0.2">**</text>
<text x="359.4" y="447.55" font-size="10" text-anchor="middle" font-weight="bold" fill="#333" letter-spacing="-0.2">*</text>
<rect x="429.9" y="406.85" width="13.8" height="58.65" fill="#fff" stroke="#ee1c25" stroke-width="1.15" />
<line x1="436.8" y1="406.85" x2="436.8" y2="403.11" stroke="#ee1c25" stroke-width="0.9" />
<line x1="434.6" y1="403.11" x2="439" y2="403.11" stroke="#ee1c25" stroke-width="0.9" />
<circle cx="436.8" cy="392.47" r="1.45" fill="none" stroke="#ee1c25" stroke-width="0.85"/>
<circle cx="434.2" cy="406.52" r="1.45" fill="none" stroke="#ee1c25" stroke-width="0.85"/>
<circle cx="439.4" cy="411.2" r="1.45" fill="none" stroke="#ee1c25" stroke-width="0.85"/>
<circle cx="435.5" cy="413.07" r="1.45" fill="none" stroke="#ee1c25" stroke-width="0.85"/>
<circle cx="438.1" cy="415.88" r="1.45" fill="none" stroke="#ee1c25" stroke-width="0.85"/>
<rect x="448.5" y="424.71" width="13.4" height="40.79" fill="#fff" stroke="#000" stroke-width="1.15" />
<line x1="455.2" y1="424.71" x2="455.2" y2="422.84" stroke="#000" stroke-width="0.9" />
<line x1="453" y1="422.84" x2="457.4" y2="422.84" stroke="#000" stroke-width="0.9" />
<circle cx="455.2" cy="419.62" r="1.45" fill="none" stroke="#000" stroke-width="0.85"/>
<circle cx="452.6" cy="422.43" r="1.45" fill="none" stroke="#000" stroke-width="0.85"/>
<circle cx="457.8" cy="424.31" r="1.45" fill="none" stroke="#000" stroke-width="0.85"/>
<circle cx="453.9" cy="426.18" r="1.45" fill="none" stroke="#000" stroke-width="0.85"/>
<circle cx="456.5" cy="428.99" r="1.45" fill="none" stroke="#000" stroke-width="0.85"/>
<rect x="467.4" y="416.93" width="12.6" height="48.57" fill="url(#hr)" stroke="#ee1c25" stroke-width="1.15" />
<line x1="473.7" y1="416.93" x2="473.7" y2="412.71" stroke="#ee1c25" stroke-width="0.9" />
<line x1="471.5" y1="412.71" x2="475.9" y2="412.71" stroke="#ee1c25" stroke-width="0.9" />
<circle cx="473.7" cy="394.35" r="1.45" fill="none" stroke="#ee1c25" stroke-width="0.85"/>
<circle cx="471.1" cy="407.45" r="1.45" fill="none" stroke="#ee1c25" stroke-width="0.85"/>
<circle cx="476.3" cy="409.33" r="1.45" fill="none" stroke="#ee1c25" stroke-width="0.85"/>
<circle cx="472.4" cy="415.88" r="1.45" fill="none" stroke="#ee1c25" stroke-width="0.85"/>
<circle cx="475" cy="418.69" r="1.45" fill="none" stroke="#ee1c25" stroke-width="0.85"/>
<circle cx="470.3" cy="421.5" r="1.45" fill="none" stroke="#ee1c25" stroke-width="0.85"/>
<circle cx="477.1" cy="427.11" r="1.45" fill="none" stroke="#ee1c25" stroke-width="0.85"/>
<rect x="486" y="429" width="12.7" height="36.5" fill="url(#hk)" stroke="#000" stroke-width="1.15" />
<line x1="492.35" y1="429" x2="492.35" y2="426.19" stroke="#000" stroke-width="0.9" />
<line x1="490.15" y1="426.19" x2="494.55" y2="426.19" stroke="#000" stroke-width="0.9" />
<circle cx="492.35" cy="417.75" r="1.45" fill="none" stroke="#000" stroke-width="0.85"/>
<circle cx="489.75" cy="420.56" r="1.45" fill="none" stroke="#000" stroke-width="0.85"/>
<circle cx="494.95" cy="423.37" r="1.45" fill="none" stroke="#000" stroke-width="0.85"/>
<circle cx="491.05" cy="426.18" r="1.45" fill="none" stroke="#000" stroke-width="0.85"/>
<circle cx="493.65" cy="428.99" r="1.45" fill="none" stroke="#000" stroke-width="0.85"/>
<circle cx="488.95" cy="432.73" r="1.45" fill="none" stroke="#000" stroke-width="0.85"/>
<line x1="426.5" y1="390.6" x2="426.5" y2="465.5" stroke="#000" stroke-width="1" />
<line x1="425" y1="465.5" x2="426.5" y2="465.5" stroke="#000" stroke-width="0.9" />
<text x="424" y="467.77" text-anchor="end">0</text>
<line x1="425" y1="446.77" x2="426.5" y2="446.77" stroke="#000" stroke-width="0.9" />
<text x="424" y="449.04" text-anchor="end">2000</text>
<line x1="425" y1="428.05" x2="426.5" y2="428.05" stroke="#000" stroke-width="0.9" />
<text x="424" y="430.32" text-anchor="end">4000</text>
<line x1="425" y1="409.33" x2="426.5" y2="409.33" stroke="#000" stroke-width="0.9" />
<text x="424" y="411.59" text-anchor="end">6000</text>
<line x1="425" y1="390.6" x2="426.5" y2="390.6" stroke="#000" stroke-width="0.9" />
<text x="424" y="392.87" text-anchor="end">8000</text>
<line x1="426" y1="465.5" x2="500.8" y2="465.5" stroke="#000" stroke-width="1" />
<line x1="432.7" y1="388.5" x2="458.9" y2="388.5" stroke="#000" stroke-width="0.9" />
<text x="445.8" y="389.55" font-size="10" text-anchor="middle" font-weight="bold" fill="#333" letter-spacing="-0.2">**</text>
<line x1="472.2" y1="390.5" x2="499.1" y2="390.5" stroke="#000" stroke-width="0.9" />
<text x="485.65" y="391.55" font-size="10" text-anchor="middle" font-weight="bold" fill="#333" letter-spacing="-0.2">*</text>
<text transform="translate(400.4 428) rotate(-90)" text-anchor="middle" font-size="8.15" y="1.96">ITT AUC</text>
<text x="4.5" y="514.6" font-size="15.3" font-family="Liberation Sans, Arial, sans-serif" font-weight="bold">O</text>
<circle cx="128.75" cy="509.25" r="2" fill="#ee1c25"/>
<text x="133.05" y="512">WT</text>
<rect x="126.95" y="516.95" width="3.6" height="3.6" fill="#000" />
<text x="133.05" y="521.5">TKT<tspan font-size="5.02" dy="-2.59">AKO</tspan><tspan dy="2.59"></tspan></text>
<line x1="33.5" y1="520.5" x2="33.5" y2="587.5" stroke="#000" stroke-width="1" />
<line x1="32" y1="587.5" x2="33.5" y2="587.5" stroke="#000" stroke-width="0.9" />
<text x="30.1" y="589.77" text-anchor="end">0</text>
<line x1="32" y1="570.75" x2="33.5" y2="570.75" stroke="#000" stroke-width="0.9" />
<text x="30.1" y="573.02" text-anchor="end">1</text>
<line x1="32" y1="554" x2="33.5" y2="554" stroke="#000" stroke-width="0.9" />
<text x="30.1" y="556.27" text-anchor="end">2</text>
<line x1="32" y1="537.25" x2="33.5" y2="537.25" stroke="#000" stroke-width="0.9" />
<text x="30.1" y="539.52" text-anchor="end">3</text>
<line x1="32" y1="520.5" x2="33.5" y2="520.5" stroke="#000" stroke-width="0.9" />
<text x="30.1" y="522.77" text-anchor="end">4</text>
<line x1="33" y1="587.5" x2="114.5" y2="587.5" stroke="#000" stroke-width="1" />
<line x1="46.6" y1="587.5" x2="46.6" y2="589.3" stroke="#000" stroke-width="0.9" />
<line x1="74" y1="587.5" x2="74" y2="589.3" stroke="#000" stroke-width="0.9" />
<line x1="100.8" y1="587.5" x2="100.8" y2="589.3" stroke="#000" stroke-width="0.9" />
<text x="46.6" y="598.2" text-anchor="middle">NCD</text>
<text x="74" y="598.2" text-anchor="middle">HFD</text>
<text x="100.8" y="598.2" text-anchor="middle">HFD</text>
<line x1="37.6" y1="580.8" x2="46" y2="580.8" stroke="#ee1c25" stroke-width="1" />
<line x1="41.8" y1="580.57" x2="41.8" y2="581.03" stroke="#ee1c25" stroke-width="0.9" />
<line x1="39.2" y1="580.57" x2="44.4" y2="580.57" stroke="#ee1c25" stroke-width="0.9" />
<line x1="39.2" y1="581.03" x2="44.4" y2="581.03" stroke="#ee1c25" stroke-width="0.9" />
<circle cx="41.8" cy="579.96" r="1.8" fill="#ee1c25"/>
<circle cx="40.6" cy="580.47" r="1.8" fill="#ee1c25"/>
<circle cx="43" cy="580.8" r="1.8" fill="#ee1c25"/>
<circle cx="39.4" cy="581.13" r="1.8" fill="#ee1c25"/>
<circle cx="44.2" cy="581.64" r="1.8" fill="#ee1c25"/>
<circle cx="40" cy="580.8" r="1.8" fill="#ee1c25"/>
<line x1="47.8" y1="580.38" x2="56.2" y2="580.38" stroke="#000" stroke-width="1" />
<line x1="52" y1="580.21" x2="52" y2="580.56" stroke="#000" stroke-width="0.9" />
<line x1="49.4" y1="580.21" x2="54.6" y2="580.21" stroke="#000" stroke-width="0.9" />
<line x1="49.4" y1="580.56" x2="54.6" y2="580.56" stroke="#000" stroke-width="0.9" />
<rect x="50.2" y="578.16" width="3.6" height="3.6" fill="#000" />
<rect x="49" y="578.67" width="3.6" height="3.6" fill="#000" />
<rect x="51.4" y="579" width="3.6" height="3.6" fill="#000" />
<rect x="47.8" y="578.5" width="3.6" height="3.6" fill="#000" />
<line x1="64.6" y1="572.5" x2="73" y2="572.5" stroke="#ee1c25" stroke-width="1" />
<line x1="68.8" y1="568.43" x2="68.8" y2="576.56" stroke="#ee1c25" stroke-width="0.9" />
<line x1="66.2" y1="568.43" x2="71.4" y2="568.43" stroke="#ee1c25" stroke-width="0.9" />
<line x1="66.2" y1="576.56" x2="71.4" y2="576.56" stroke="#ee1c25" stroke-width="0.9" />
<circle cx="68.8" cy="550.15" r="1.8" fill="#ee1c25"/>
<circle cx="67.6" cy="569.08" r="1.8" fill="#ee1c25"/>
<circle cx="70" cy="572.42" r="1.8" fill="#ee1c25"/>
<circle cx="66.4" cy="575.94" r="1.8" fill="#ee1c25"/>
<circle cx="71.2" cy="578.79" r="1.8" fill="#ee1c25"/>
<circle cx="67" cy="581.13" r="1.8" fill="#ee1c25"/>
<circle cx="70.6" cy="579.96" r="1.8" fill="#ee1c25"/>
<line x1="75.2" y1="579.17" x2="83.6" y2="579.17" stroke="#000" stroke-width="1" />
<line x1="79.4" y1="578.38" x2="79.4" y2="579.97" stroke="#000" stroke-width="0.9" />
<line x1="76.8" y1="578.38" x2="82" y2="578.38" stroke="#000" stroke-width="0.9" />
<line x1="76.8" y1="579.97" x2="82" y2="579.97" stroke="#000" stroke-width="0.9" />
<rect x="77.6" y="574.48" width="3.6" height="3.6" fill="#000" />
<rect x="76.4" y="575.65" width="3.6" height="3.6" fill="#000" />
<rect x="78.8" y="576.99" width="3.6" height="3.6" fill="#000" />
<rect x="75.2" y="578.16" width="3.6" height="3.6" fill="#000" />
<rect x="80" y="579.34" width="3.6" height="3.6" fill="#000" />
<rect x="75.8" y="580.51" width="3.6" height="3.6" fill="#000" />
<rect x="79.4" y="576.49" width="3.6" height="3.6" fill="#000" />
<line x1="92" y1="564.35" x2="100.4" y2="564.35" stroke="#ee1c25" stroke-width="1" />
<line x1="96.2" y1="559.1" x2="96.2" y2="569.6" stroke="#ee1c25" stroke-width="0.9" />
<line x1="93.6" y1="559.1" x2="98.8" y2="559.1" stroke="#ee1c25" stroke-width="0.9" />
<line x1="93.6" y1="569.6" x2="98.8" y2="569.6" stroke="#ee1c25" stroke-width="0.9" />
<circle cx="96.2" cy="524.18" r="1.8" fill="#ee1c25"/>
<circle cx="95" cy="554.5" r="1.8" fill="#ee1c25"/>
<circle cx="97.4" cy="557.85" r="1.8" fill="#ee1c25"/>
<circle cx="93.8" cy="560.03" r="1.8" fill="#ee1c25"/>
<circle cx="98.6" cy="567.74" r="1.8" fill="#ee1c25"/>
<circle cx="94.4" cy="573.26" r="1.8" fill="#ee1c25"/>
<circle cx="98" cy="576.28" r="1.8" fill="#ee1c25"/>
<circle cx="95.6" cy="578.12" r="1.8" fill="#ee1c25"/>
<circle cx="96.8" cy="579.12" r="1.8" fill="#ee1c25"/>
<circle cx="93.2" cy="572.42" r="1.8" fill="#ee1c25"/>
<line x1="102.1" y1="575.64" x2="110.5" y2="575.64" stroke="#000" stroke-width="1" />
<line x1="106.3" y1="573.23" x2="106.3" y2="578.04" stroke="#000" stroke-width="0.9" />
<line x1="103.7" y1="573.23" x2="108.9" y2="573.23" stroke="#000" stroke-width="0.9" />
<line x1="103.7" y1="578.04" x2="108.9" y2="578.04" stroke="#000" stroke-width="0.9" />
<rect x="104.5" y="562.92" width="3.6" height="3.6" fill="#000" />
<rect x="103.3" y="571.97" width="3.6" height="3.6" fill="#000" />
<rect x="105.7" y="574.48" width="3.6" height="3.6" fill="#000" />
<rect x="102.1" y="576.99" width="3.6" height="3.6" fill="#000" />
<rect x="106.9" y="577.83" width="3.6" height="3.6" fill="#000" />
<rect x="102.7" y="578.83" width="3.6" height="3.6" fill="#000" />
<line x1="37.8" y1="575.5" x2="54.2" y2="575.5" stroke="#000" stroke-width="0.9" />
<text x="46" y="572.9" text-anchor="middle">n.s.</text>
<line x1="67.4" y1="546.5" x2="83.8" y2="546.5" stroke="#000" stroke-width="0.9" />
<text x="75.6" y="543.9" text-anchor="middle">n.s.</text>
<line x1="94.4" y1="519.5" x2="110.9" y2="519.5" stroke="#000" stroke-width="0.9" />
<text x="102.65" y="520.55" font-size="10" text-anchor="middle" font-weight="bold" fill="#333" letter-spacing="-0.2">*</text>
<text x="74" y="607.3" text-anchor="middle">5W</text>
<text x="100.8" y="607.3" text-anchor="middle">10W</text>
<text transform="translate(15.25 549.4) rotate(-90)" text-anchor="middle" font-size="8.15" y="1.96">Insulin (ng/mL)</text>
<text x="198.8" y="516.4" font-size="15.3" font-family="Liberation Sans, Arial, sans-serif" font-weight="bold">P</text>
<text x="217.6" y="526.6">kDa</text>
<text x="251.3" y="521.4" text-anchor="middle">WT</text>
<line x1="240.1" y1="523.2" x2="265.5" y2="523.2" stroke="#000" stroke-width="0.9" />
<text x="285.7" y="521.4" text-anchor="middle">TKT<tspan font-size="5.02" dy="-2.59">AKO</tspan><tspan dy="2.59"></tspan></text>
<line x1="270" y1="523.2" x2="297.5" y2="523.2" stroke="#000" stroke-width="0.9" />
<text x="314.5" y="521.4" text-anchor="middle">WT</text>
<line x1="300.2" y1="523.2" x2="332.7" y2="523.2" stroke="#000" stroke-width="0.9" />
<text x="356.5" y="521.4" text-anchor="middle">TKT<tspan font-size="5.02" dy="-2.59">AKO</tspan><tspan dy="2.59"></tspan></text>
<line x1="339.1" y1="523.2" x2="372.5" y2="523.2" stroke="#000" stroke-width="0.9" />
<rect x="247.4" y="529.7" width="1" height="0.9" fill="#222" />
<rect x="260.9" y="529.7" width="1" height="0.9" fill="#222" />
<rect x="275.1" y="529.7" width="1" height="0.9" fill="#222" />
<rect x="288.9" y="529.7" width="1" height="0.9" fill="#222" />
<text x="301.9" y="532.2" font-size="7.8" text-anchor="middle">+</text>
<text x="314.9" y="532.2" font-size="7.8" text-anchor="middle">+</text>
<text x="327.9" y="532.2" font-size="7.8" text-anchor="middle">+</text>
<text x="340.9" y="532.2" font-size="7.8" text-anchor="middle">+</text>
<text x="353.8" y="532.2" font-size="7.8" text-anchor="middle">+</text>
<text x="366.8" y="532.2" font-size="7.8" text-anchor="middle">+</text>
<text x="379.5" y="530.4">Insulin</text>
<rect x="236.6" y="533.6" width="139.8" height="9.8" fill="#fff" stroke="#111" stroke-width="1.1" />
<ellipse cx="247.9" cy="538.7" rx="5.2" ry="0.95" fill="#000" opacity="0.6" filter="url(#bl)"/>
<ellipse cx="261.4" cy="538.7" rx="5.2" ry="0.95" fill="#000" opacity="0.6" filter="url(#bl)"/>
<ellipse cx="275.6" cy="538.7" rx="5.2" ry="0.95" fill="#000" opacity="0.3" filter="url(#bl)"/>
<ellipse cx="289.4" cy="538.7" rx="5.2" ry="0.95" fill="#000" opacity="0.35" filter="url(#bl)"/>
<ellipse cx="301.9" cy="538.7" rx="5.2" ry="0.95" fill="#000" opacity="0.9" filter="url(#bl)"/>
<ellipse cx="314.9" cy="538.7" rx="5.2" ry="0.95" fill="#000" opacity="0.8" filter="url(#bl)"/>
<ellipse cx="327.9" cy="538.7" rx="5.2" ry="0.95" fill="#000" opacity="0.9" filter="url(#bl)"/>
<ellipse cx="340.9" cy="538.7" rx="5.2" ry="0.95" fill="#000" opacity="0.35" filter="url(#bl)"/>
<ellipse cx="353.8" cy="538.7" rx="5.2" ry="0.95" fill="#000" opacity="0.3" filter="url(#bl)"/>
<ellipse cx="366.8" cy="538.7" rx="5.2" ry="0.95" fill="#000" opacity="0.15" filter="url(#bl)"/>
<text x="380.8" y="542.2">TKT</text>
<text x="228.2" y="540.9" text-anchor="end">70</text>
<line x1="230.2" y1="538.2" x2="235.4" y2="538.2" stroke="#000" stroke-width="1" />
<rect x="236.6" y="550.3" width="139.8" height="10.1" fill="#fff" stroke="#111" stroke-width="1.1" />
<ellipse cx="247.9" cy="555.95" rx="5.2" ry="1.2" fill="#000" opacity="0.05" filter="url(#bl)"/>
<ellipse cx="261.4" cy="555.95" rx="5.2" ry="1.2" fill="#000" opacity="0.05" filter="url(#bl)"/>
<ellipse cx="275.6" cy="555.95" rx="5.2" ry="1.2" fill="#000" opacity="0.25" filter="url(#bl)"/>
<ellipse cx="289.4" cy="555.95" rx="5.2" ry="1.2" fill="#000" opacity="0.3" filter="url(#bl)"/>
<ellipse cx="301.9" cy="555.95" rx="5.2" ry="1.2" fill="#000" opacity="0.08" filter="url(#bl)"/>
<ellipse cx="314.9" cy="555.95" rx="5.2" ry="1.2" fill="#000" opacity="0.3" filter="url(#bl)"/>
<ellipse cx="327.9" cy="555.95" rx="5.2" ry="1.2" fill="#000" opacity="0.3" filter="url(#bl)"/>
<ellipse cx="340.9" cy="555.95" rx="6" ry="2.3" fill="#000" opacity="1" filter="url(#bl)"/>
<ellipse cx="353.8" cy="555.95" rx="2.5" ry="1.2" fill="#000" opacity="0.8" filter="url(#bl)"/>
<ellipse cx="366.8" cy="555.95" rx="5.2" ry="1.2" fill="#000" opacity="0.9" filter="url(#bl)"/>
<text x="380.8" y="559.2">p-Akt (S473)</text>
<text x="228.2" y="556.5" text-anchor="end">70</text>
<line x1="230.2" y1="553.8" x2="235.4" y2="553.8" stroke="#000" stroke-width="1" />
<rect x="236.6" y="567.3" width="139.8" height="9.5" fill="#fff" stroke="#111" stroke-width="1.1" />
<ellipse cx="247.9" cy="572.25" rx="5.2" ry="1.35" fill="#000" opacity="0.95" filter="url(#bl)"/>
<ellipse cx="261.4" cy="572.25" rx="5.2" ry="1.35" fill="#000" opacity="0.95" filter="url(#bl)"/>
<ellipse cx="275.6" cy="572.25" rx="5.2" ry="1.35" fill="#000" opacity="0.95" filter="url(#bl)"/>
<ellipse cx="289.4" cy="572.25" rx="5.2" ry="1.35" fill="#000" opacity="0.95" filter="url(#bl)"/>
<ellipse cx="301.9" cy="572.25" rx="5.2" ry="1.35" fill="#000" opacity="0.95" filter="url(#bl)"/>
<ellipse cx="314.9" cy="572.25" rx="5.2" ry="1.35" fill="#000" opacity="0.95" filter="url(#bl)"/>
<ellipse cx="327.9" cy="572.25" rx="5.2" ry="1.35" fill="#000" opacity="0.95" filter="url(#bl)"/>
<ellipse cx="340.9" cy="572.25" rx="5.2" ry="1.35" fill="#000" opacity="0.95" filter="url(#bl)"/>
<ellipse cx="353.8" cy="572.25" rx="5.2" ry="1.35" fill="#000" opacity="0.95" filter="url(#bl)"/>
<ellipse cx="366.8" cy="572.25" rx="5.2" ry="1.35" fill="#000" opacity="0.95" filter="url(#bl)"/>
<text x="380.8" y="575.6">Akt</text>
<text x="228.2" y="571.7" text-anchor="end">70</text>
<line x1="230.2" y1="569" x2="235.4" y2="569" stroke="#000" stroke-width="1" />
<rect x="236.6" y="583.7" width="139.8" height="10.4" fill="#fff" stroke="#111" stroke-width="1.1" />
<ellipse cx="247.9" cy="589.1" rx="5.2" ry="0.9" fill="#000" opacity="0.35" filter="url(#bl)"/>
<ellipse cx="261.4" cy="589.1" rx="5.2" ry="0.9" fill="#000" opacity="0.35" filter="url(#bl)"/>
<ellipse cx="275.6" cy="589.1" rx="5.2" ry="0.9" fill="#000" opacity="0.4" filter="url(#bl)"/>
<ellipse cx="289.4" cy="589.1" rx="5.2" ry="0.9" fill="#000" opacity="0.4" filter="url(#bl)"/>
<ellipse cx="301.9" cy="589.1" rx="5.2" ry="0.9" fill="#000" opacity="0.35" filter="url(#bl)"/>
<ellipse cx="314.9" cy="589.1" rx="5.2" ry="0.9" fill="#000" opacity="0.35" filter="url(#bl)"/>
<ellipse cx="327.9" cy="589.1" rx="5.2" ry="0.9" fill="#000" opacity="0.35" filter="url(#bl)"/>
<ellipse cx="340.9" cy="589.1" rx="5.2" ry="0.9" fill="#000" opacity="0.4" filter="url(#bl)"/>
<ellipse cx="353.8" cy="589.1" rx="5.2" ry="0.9" fill="#000" opacity="0.4" filter="url(#bl)"/>
<ellipse cx="366.8" cy="589.1" rx="5.2" ry="0.9" fill="#000" opacity="0.55" filter="url(#bl)"/>
<text x="380.8" y="592.9">Tubulin</text>
<text x="228.2" y="590.8" text-anchor="end">55</text>
<line x1="230.2" y1="588.1" x2="235.4" y2="588.1" stroke="#000" stroke-width="1" /></svg>
</body></html>
